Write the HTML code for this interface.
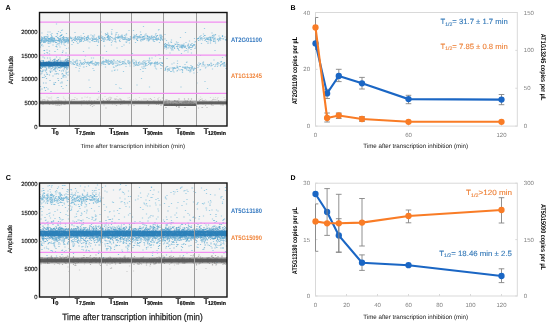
<!DOCTYPE html>
<html><head><meta charset="utf-8"><style>
html,body{margin:0;padding:0;background:#fff;width:550px;height:325px;overflow:hidden}
svg{display:block;will-change:transform;text-rendering:geometricPrecision}
</style></head><body>
<svg width="550" height="325" viewBox="0 0 550 325" font-family="Liberation Sans, sans-serif">
<rect width="550" height="325" fill="#fff"/>
<rect x="39.5" y="12.5" width="187.5" height="113.5" fill="#f4f4f4"/>
<g transform="scale(.5)">
<path d="M133 75h0m3 9h0m-9-7h0m3 2h0m-21 1h0m-7-2h0m6-2h0m3 6h0m16-1h0m-38-7h0m26 14h0m18-5h0m-40-5h0m4 5h0m32-4h0m-11 1h0m18 3h0m-19-7h0m18 6h0m-7 2h0m-9 0h0m-28-5h0m1 4h0m38-8h0m-31 4h0m21 2h0m-15-5h0m2 4h0m-26 6h0m47 2h0m-30-6h0m2 1h0m-16-6h0m32-1h0m9-1h0m-15 7h0m-2 0h0m17-4h0m-39-2h0m25 5h0m12 0h0m-22-1h0m30 4h0m-25-4h0m-19 0h0m50-4h0m-31 4h0m18 4h0m-39-4h0m42 0h0m-38 1h0m-2 0h0m9 1h0m9 0h0m3 0h0m-3-5h0m-23 4h0m33-6h0m8 6h0m14-5h0m-25 4h0m22 2h0m1-3h0m-43 1h0m-8-5h0m6 2h0m33 5h0m-28-6h0m-8 6h0m48-6h0m-15 1h0m16-1h0m-37 4h0m-8 2h0m-3-5h0m47 2h0m-45 6h0m37-6h0m-35-2h0m38 4h0m-47-2h0m19-1h0m1-4h0m34 9h0m-5-5h0m-30 2h0m3-3h0m16 7h0m-4-2h0m15 1h0m-12-3h0m-10 1h0m22 2h0m-33 0h0m2-2h0m-1-1h0m8-1h0m-26-1h0m24-1h0m-8 4h0m-4-2h0m0-5h0m32 6h0m-24 3h0m35-4h0m-33-5h0m16 6h0m-22 3h0m30-2h0m-36-2h0m4 7h0m1 0h0m-9-6h0m36 3h0m-19-2h0m-18 2h0m24 2h0m-3-2h0m1-3h0m12-2h0m-37-1h0m25 3h0m-26 4h0m54-3h0m-19-1h0m-28 1h0m43-1h0m-43 2h0m11-6h0m-18-2h0m19 5h0m20-3h0m-35 9h0m38-6h0m-20 0h0m22-4h0m-37 6h0m42-3h0m-10 6h0m-39-1h0m25-5h0m-24 3h0m38-10h0m-21 7h0m24 6h0m6-1h0m-41-2h0m37-1h0m-25-5h0m0 1h0m16 5h0m18 5h0m-16-13h0m-27 9h0m-13 0h0m6 1h0m11-6h0m-13 1h0m0 2h0m51-3h0m-46-1h0m10 1h0m37 3h0m-25 1h0m9-1h0m-23 0h0m22-2h0m-30 0h0m11 6h0m33-4h0m-11 0h0m-15 3h0m0 1h0m16 0h0m-20-3h0m2-1h0m8 1h0m-1 0h0m-5 3h0m8-3h0m-26 1h0m34-2h0m-34 4h0m38-11h0m-14 8h0m21 1h0m-30-6h0m14 11h0m-34-7h0m14-1h0m-9-2h0m30 6h0m-32-2h0m22-3h0m-14 3h0m-5 1h0m37 2h0m-33-3h0m-9-4h0m18 1h0m-11-5h0m29 5h0m-5 4h0m19-1h0m-6-1h0m-31-1h0m32 6h0m-35-4h0m35 2h0m-42-2h0m46-3h0m-21 7h0m-6-9h0m-4 0h0m-1 3h0m-13-1h0m28 0h0m-16 0h0m30 5h0m-44-3h0" stroke="#2990c4" stroke-width="2.4" stroke-linecap="square" stroke-opacity="0.55" fill="none"/>
<path d="M114 67h0m-18-3h0m27 24h0m-24-11h0m-3-3h0m24 20h0m1-23h0m16 10h0m-49-7h0m-2 18h0m42-15h0m-32 5h0m37-15h0m-20 26h0m2-23h0m-35 18h0m33 2h0m17 1h0m8 5h0m-36-27h0m-12 15h0m42-3h0m-28 3h0m2 6h0m1-9h0m5-8h0m-28 6h0m-3 15h0m43-25h0m-7 12h0m-14-10h0m15 19h0m3-25h0m-24 12h0m6 2h0m-9 2h0m-6 20h0m26-7h0m9-23h0m-8 28h0m-20-30h0m22-6h0m-13 4h0m2 15h0m-25 3h0m44-25h0m7 24h0m-35-6h0m4 8h0m8-9h0" stroke="#4aa8d4" stroke-width="2.4" stroke-linecap="square" stroke-opacity="0.5" fill="none"/>
<path d="M96 72h0m27-2h0m-11 23h0m-14-6h0m17-20h0m8 19h0m-39 3h0m6-15h0m10-10h0m-6 36h0m19-52h0m-30 43h0m50 6h0m-10-36h0m-19 21h0m-15 25h0m-5-41h0m39 19h0m-10-12h0m-9 1h0m-6 19h0m-15-12h0" stroke="#4aa8d4" stroke-width="2.4" stroke-linecap="square" stroke-opacity="0.5" fill="none"/>
<rect x="79" y="123.6" width="60" height="8.8" fill="#0a62a2" fill-opacity="0.8"/>
<path d="M111 128h0m-18-2h0m33 1h0m-35 7h0m18-3h0m8-4h0m-32 4h0m28-5h0m-26 3h0m46-6h0m-40 1h0m20 1h0m21 7h0m-28-3h0m-25 1h0m21-2h0m12 1h0m-3 0h0m25 1h0m-51-1h0m2-4h0m15 0h0m3 7h0m22 1h0m-37-3h0m-9-7h0m40 10h0m-15-4h0m-24-1h0m52 0h0m-51-1h0m25 7h0m-7-1h0m34-8h0m-31 2h0m-12 2h0m38 3h0m-20-12h0m-21 11h0m-1 2h0m27-6h0m-31 1h0m16 4h0m20-3h0m2-5h0m-4 0h0m-30 1h0m-7-2h0m37 5h0m-16-2h0m10 2h0m-25 2h0m1 4h0m2-5h0m31-7h0m-29 10h0m0-4h0m35 4h0m-25-5h0m25 2h0m-18-1h0m4 0h0m-12 4h0m6-6h0m-4 2h0m9 1h0m20-2h0m-16-6h0m-2 8h0m3-10h0m-36 4h0m12 3h0m11 3h0m33 2h0m-14 0h0m10-1h0m-21-3h0m18 5h0m-23-5h0m26 5h0m5-11h0m-19 4h0m-11 1h0m13 2h0m14-8h0m-28 11h0m13 0h0m-37-1h0m31-4h0m-16 7h0m26-7h0m-27 5h0m18-3h0m-6 0h0m29-1h0m-7 1h0m-46 4h0m48 1h0m-9 0h0m-38-2h0m37-1h0m10-1h0m-36 5h0m15-7h0m-23-1h0m12 2h0m8-5h0m-4 4h0m-14 1h0m46-3h0m-56 1h0m9 4h0m7-3h0m-3 1h0m-11 3h0m20-5h0m-9-2h0m5 4h0m-13 1h0m44-7h0m-4 8h0m-45-3h0m1 0h0m37-2h0m-23 2h0m5 4h0m7-1h0m27 1h0m-48-4h0m14 6h0m23-1h0m-10-4h0m-13-8h0m9 8h0m-28 9h0m18-9h0m20-3h0m-39 8h0m27-7h0m-18 4h0m1 0h0m6-7h0m-5 5h0m-5 4h0m9-5h0m28 3h0m-10-2h0m11 3h0m4 3h0m-7-10h0m-30 3h0m10 2h0m-5-3h0m27-1h0m-8 2h0m1 0h0m13-1h0m-36 3h0m2 2h0m22-1h0m11 0h0m-48 2h0m52-8h0m-37 4h0m3 1h0m18 1h0m16-7h0m-49 11h0m23-9h0m20 4h0m-18 1h0m6 1h0m6-5h0m-5 0h0m-35 3h0m51 1h0m-38 1h0m11-3h0m24-2h0m-29-2h0m5 10h0m10-10h0m-15 6h0m-4-1h0m14 1h0m-20 1h0m13 1h0m-11-4h0m-5 1h0m49-7h0m-8 6h0m8-3h0m-32 3h0m-9 4h0m37-4h0m-37 4h0m10-5h0m11 2h0m-24-2h0m16-7h0m18 6h0m-11 1h0m-16 2h0m-11-1h0m18 0h0m1 3h0m-11-1h0m7-3h0m-1 4h0m-16-9h0m46 5h0m-6 1h0m-11 4h0m-20-6h0m17-3h0m-11 6h0m-9 4h0m4-6h0m18 1h0m-17-1h0m20 1h0m13 4h0m-7 2h0m8-4h0m0-2h0m-7 6h0m-16-6h0m-15 0h0m-10-1h0m19 0h0m-15 2h0m0-2h0m10 2h0m3-1h0m37 2h0m-49-3h0m28 0h0m-34 2h0m47-1h0m-43 0h0m17 4h0m6-7h0m17-3h0m-18 8h0m-12-3h0m30 5h0m-34-4h0m44-4h0m-18 11h0m-37-6h0m55-2h0m-6-1h0m-38 4h0m45-4h0m-33 3h0m33 3h0m-27-8h0m-6 3h0m-2 3h0m21 3h0m2-2h0m2-4h0m-2 6h0m-36-6h0m-6 1h0m14 1h0m2-4h0m3 13h0m11-6h0m-17-3h0m41-3h0m-35-2h0m-9 5h0m10 1h0m3-3h0m6 0h0m-21 3h0m15-2h0m29-6h0m-47 8h0m38-1h0m-32 1h0m5-4h0m33-5h0m-25 3h0m27 5h0m-53 6h0m31 1h0m-28-7h0m25-6h0m15 4h0m-36 2h0m5 0h0m36-1h0m-5 4h0m-11-7h0m1-4h0m-23 4h0m19-1h0m22 11h0" stroke="#0d66a6" stroke-width="2.4" stroke-linecap="square" stroke-opacity="0.5" fill="none"/>
<path d="M124 148h0m-26-15h0m-17 8h0m37-5h0m5-2h0m7 1h0m0 0h0m-7 7h0m-11-7h0m-10 48h0m-3-33h0m27 4h0m-11-20h0m18 2h0m-9 28h0m-30-16h0m-7 18h0m-6-30h0m3-4h0m17 11h0m33-4h0m-35-3h0m-17 7h0m47-5h0m-23-4h0m5 8h0m6 19h0m-31-28h0m24 1h0m-13 2h0m-3 13h0m-12-12h0m26 29h0m-25-33h0m2 2h0m30 3h0m1 19h0m14-6h0m3-3h0m-24-11h0m19 14h0m-38-17h0m21-1h0m23 5h0m-50 40h0m42-38h0m-37 10h0m-7-2h0m29-10h0m20-4h0m-32 16h0m-6 7h0m5-25h0m-5 4h0m17 12h0m-24-8h0m4 0h0m35-7h0m-32 7h0m26-5h0m-13 17h0m-20-11h0m15 4h0m-8-7h0m32 9h0m7 7h0m-12-19h0m-11 2h0m27 13h0m-45-8h0m-6-10h0m7 34h0m16-26h0m15 33h0m-37-33h0m49-5h0m-26 4h0m18 3h0m-6-6h0m-36 7h0m43-7h0m-28-3h0m12 10h0m4 52h0m-16-34h0m-5-12h0m9-7h0m18-8h0m-4-2h0m-10 37h0m19-19h0m-36 3h0m41-11h0m-29-9h0m-22 2h0m30 2h0m-4 2h0m-11 39h0m15-13h0m10-29h0m13 9h0m-52-13h0m32 15h0m22-13h0m-36 8h0m33-5h0m-33-2h0m23 22h0m-19-20h0m13-2h0m2 6h0m-31 14h0m3 26h0m19-33h0m-21-15h0m39 0h0m-11 15h0m-32 7h0m45-22h0m-4 7h0m4-5h0m-50 2h0m6 5h0m3 33h0m-4-42h0m33 0h0m18 3h0m-14-4h0m-38 14h0m48 0h0" stroke="#2990c4" stroke-width="2.4" stroke-linecap="square" stroke-opacity="0.5" fill="none"/>
<path d="M82 121h0m42-11h0m-35 6h0m25 5h0m18-15h0m-17 17h0m15-1h0m-25 0h0m-19-1h0m19 0h0m23 3h0m-33-8h0m41-4h0m-47-11h0m31 15h0m6-14h0m-32 3h0m29 17h0m10-3h0m-34-17h0m-4 4h0m3 16h0m11 0h0m22-3h0m-32 4h0m37-6h0m-11-12h0m-12 9h0m7 6h0m16 2h0m-49 1h0m21-4h0m-9-11h0m35 10h0m-24-15h0m-10 13h0m-14-2h0m45-3h0m-44 10h0m23-3h0" stroke="#2990c4" stroke-width="2.4" stroke-linecap="square" stroke-opacity="0.5" fill="none"/>
<path d="M89 176h0m20-7h0m17 8h0m-5-11h0m-40 7h0m43-7h0m11-5h0m-42 14h0m35-21h0m-15-6h0m-20-3h0m44-1h0m-4 27h0m-7-19h0m-46 28h0" stroke="#4aa8d4" stroke-width="2.4" stroke-linecap="square" stroke-opacity="0.5" fill="none"/>
<rect x="79" y="201" width="60" height="8.4" fill="#4e4e4e" fill-opacity="0.35"/>
<rect x="79" y="202.6" width="60" height="5.2" fill="#4e4e4e" fill-opacity="0.85"/>
<path d="M121 206h0m-31-6h0m34 4h0m-39-4h0m26 2h0m19 7h0m-15 1h0m3-6h0m5-1h0m-25 4h0m6-1h0m10 5h0m-13-4h0m-3-11h0m39 9h0m-57-2h0m16-2h0m-7 4h0m15 0h0m27-2h0m-14 7h0m17-4h0m-49 0h0m52-1h0m-9 4h0m3-9h0m-25 9h0m-20-6h0m36 7h0m-36-1h0m51-3h0m-48-3h0m19 2h0m-2 1h0m-18-7h0m1 4h0m16-1h0m-6 7h0m12 1h0m2-8h0m9 0h0m-6-2h0m-9 5h0m5 2h0m7 4h0m-24-11h0m28 8h0m-4-4h0m-1-2h0m-23 1h0" stroke="#666" stroke-width="2.4" stroke-linecap="square" stroke-opacity="0.35" fill="none"/>
<path d="M137 196h0m-20 3h0m10-5h0m-45 2h0m31 0h0m-19-2h0m9 4h0m5 3h0m11 0h0m-16-7h0m25 3h0m-27-1h0" stroke="#bbb" stroke-width="2.4" stroke-linecap="square" stroke-opacity="0.4" fill="none"/>
<path d="M197 73h0m-53 3h0m19 2h0m13-6h0m18 10h0m-30-6h0m-13 4h0m-1-1h0m18-2h0m-8-2h0m-17 2h0m12 1h0m42 2h0m-33-3h0m1 0h0m-12 0h0m10 5h0m10-3h0m-22-3h0m24-2h0m15 3h0m-24-2h0m-14 2h0m8 5h0m37-2h0m-22-1h0m14 0h0m3 4h0m-19-8h0m7 4h0m-16-2h0m-3 2h0m7-1h0m-5-1h0m10 3h0m25-8h0m-11 7h0m6 1h0m-38-5h0m4 0h0m38 9h0m-34-9h0m10 2h0m-31-1h0m51 0h0m-7 0h0m0-4h0m-39 13h0m1-9h0m16 3h0m28-1h0m-48 4h0m0-2h0m40 1h0m2 1h0m-16-1h0m-1-3h0m-19 3h0m1-8h0m-2 8h0m6-1h0m36-1h0m-16-5h0m1 8h0m22-6h0m-39 4h0m10-7h0m19 5h0m-11-2h0m-20 0h0m-6 0h0m10 7h0m-2-5h0m-12 1h0m12 5h0m-4-10h0m34 9h0m-39-6h0m20-1h0m15 1h0m-27-4h0m-7 1h0m25 1h0m-12 1h0m5 4h0m-24 1h0m54-4h0m-46 2h0m32 0h0m13-2h0m-40 2h0m41-3h0m-39 4h0m8-3h0m0 1h0m-8 1h0m-4 0h0m-6-3h0m38-2h0m-32 4h0" stroke="#2990c4" stroke-width="2.4" stroke-linecap="square" stroke-opacity="0.5" fill="none"/>
<path d="M197 75h0m-2 4h0m-21 1h0m23 4h0m-53 5h0m-2-12h0m41-1h0m-7 2h0m-13 4h0m17-5h0m9-7h0m10 4h0m-19 10h0m2-14h0m-3 14h0m-12-17h0m0 16h0m-14 0h0m24-7h0m-16 2h0m-20-2h0m54 15h0m-21-16h0m3-3h0m7 9h0m-28 6h0m7-6h0m36-4h0m-44 9h0m7-14h0" stroke="#4aa8d4" stroke-width="2.4" stroke-linecap="square" stroke-opacity="0.5" fill="none"/>
<path d="M193 125h0m-31 1h0m22 1h0m-10-2h0m-27-1h0m35-1h0m6 4h0m-21-2h0m-3 1h0m21-4h0m-4 2h0m-26-2h0m37 7h0m1 0h0m-7-2h0m-31-1h0m41 2h0m-12-5h0m-42 0h0m48 6h0m-20-5h0m-29 2h0m9-1h0m4-5h0m25 5h0m-32 3h0m6 2h0m-7-10h0m24 2h0m-19 3h0m3 4h0m39 1h0m-5 0h0m-33 1h0m40-6h0m-34-1h0m-12 5h0m31-3h0m-4 0h0m-5-1h0m26 0h0m-38 4h0m17-5h0m-23-2h0m29 3h0m-2 2h0m-19-1h0m-21 0h0m20-5h0m-9 3h0m26 5h0m-22-3h0m-5-1h0m16 4h0m7-4h0m-29 3h0m51-1h0m-43 0h0m11 2h0m-5 3h0m39-2h0m-6-6h0m-41-1h0m42 2h0m-17 1h0m-16 2h0m38-2h0m-13 1h0m-32-5h0m46 4h0m-20 2h0m1 3h0m-11-3h0m-5-1h0m-23-4h0m45 3h0m-9 0h0m7 0h0m-20 1h0m22 1h0" stroke="#2990c4" stroke-width="2.4" stroke-linecap="square" stroke-opacity="0.45" fill="none"/>
<path d="M181 125h0m2-9h0m-39 9h0m46 1h0m-21-7h0m4 14h0m-8-6h0m-17 2h0m43 2h0m-13-5h0m-23 1h0m6 5h0m7 2h0m-16 1h0m23-9h0m-8 8h0m19 3h0m1-21h0m-4 8h0m-14 3h0m4 1h0m-15 14h0m1-5h0m-13-10h0m47 0h0" stroke="#4aa8d4" stroke-width="2.4" stroke-linecap="square" stroke-opacity="0.5" fill="none"/>
<path d="M178 96h0m-11 7h0m4 9h0m9 63h0m8-34h0m-10 19h0m7-88h0m-44 2h0m9-9h0m47 118h0" stroke="#4aa8d4" stroke-width="2.4" stroke-linecap="square" stroke-opacity="0.5" fill="none"/>
<rect x="139" y="201" width="61" height="8.4" fill="#4e4e4e" fill-opacity="0.35"/>
<rect x="139" y="202.6" width="61" height="5.2" fill="#4e4e4e" fill-opacity="0.85"/>
<path d="M185 208h0m9-3h0m-1-2h0m-45 0h0m33 8h0m-8-9h0m12 11h0m4-11h0m-43-3h0m35 12h0m-28-7h0m10 6h0m-19-4h0m52-3h0m-21 5h0m4-5h0m-14 3h0m-5-2h0m-6-6h0m0 8h0m10-4h0m25 2h0m-41 2h0m47-7h0m-54 7h0m57 0h0m-10 5h0m0-4h0m-2-2h0m-3-3h0m11 2h0m-45-5h0m34 7h0m-40-3h0m18 0h0m22 1h0m-9 2h0m-4-1h0m-27-5h0m40 9h0m-31-5h0m18 1h0m28-1h0m-30-3h0m12 4h0m-18-2h0m16-2h0m-32 4h0m0 2h0m3-1h0" stroke="#666" stroke-width="2.4" stroke-linecap="square" stroke-opacity="0.35" fill="none"/>
<path d="M196 199h0m-22-4h0m6 0h0m14 3h0m3-2h0m-17 2h0m18-4h0m-28 0h0m-6 3h0m-14-2h0m14 0h0m11-1h0" stroke="#bbb" stroke-width="2.4" stroke-linecap="square" stroke-opacity="0.4" fill="none"/>
<path d="M238 74h0m-35 0h0m50-6h0m-37 6h0m42 5h0m-37-6h0m27 6h0m-17-1h0m-2 0h0m-10 0h0m42-2h0m-7 3h0m7 0h0m-55-2h0m31-1h0m-6 4h0m-12 1h0m19-7h0m21 5h0m-13-3h0m-6 7h0m-17-8h0m13-1h0m-35-1h0m15 6h0m23-6h0m1 5h0m-31-3h0m13 5h0m37 1h0m-45-1h0m-3-10h0m20 2h0m-8-4h0m9 16h0m-27-10h0m37 1h0m-17 1h0m-18 2h0m25-3h0m4 1h0m-16 0h0m-5-4h0m39 10h0m-15-1h0m-19-5h0m28 0h0m-23 6h0m5 1h0m-20-7h0m9 2h0m4-3h0m27 2h0m-36-8h0m18 0h0m-16 9h0m30-2h0m-36 1h0m20-1h0m-13 2h0m27-1h0m10-1h0m6 1h0m-18-3h0m-41 6h0m44-7h0m0 2h0m5 4h0m-5-4h0m-35 4h0m47 2h0m-40-2h0m33-4h0m-41 7h0m-3-4h0m12-5h0m-11 9h0m13-5h0m-10 1h0m43 1h0m-5-4h0m5 4h0m-17-6h0m-21 0h0m-12 2h0m4 8h0m10-5h0m1 2h0m0-5h0m33 3h0m-7-8h0m-9 6h0m-8 2h0m-12-3h0m22-5h0m-20 1h0m33 7h0m6 2h0m-22-5h0m-31 6h0m39-9h0m-22 6h0m37-1h0m-51 2h0m38-7h0m2 7h0m-42-2h0m47-3h0m-36 1h0m33 1h0" stroke="#2990c4" stroke-width="2.4" stroke-linecap="square" stroke-opacity="0.5" fill="none"/>
<path d="M217 72h0m-1-4h0m28 25h0m7-23h0m-9 4h0m-28 1h0m20 21h0m-28-22h0m47-4h0m6 16h0m-57-15h0m22-12h0m29 26h0m-1-1h0m-29-20h0m-8 2h0m21 10h0m-12-8h0m-22-4h0m30 2h0m-9 24h0m0-5h0m-12-18h0m26 8h0m-20 2h0m44-4h0m-22 2h0m9 15h0m1-19h0m-36-2h0" stroke="#4aa8d4" stroke-width="2.4" stroke-linecap="square" stroke-opacity="0.5" fill="none"/>
<path d="M227 120h0m20 3h0m-35-1h0m-1 1h0m30 2h0m-6 6h0m-21-8h0m7 1h0m-9 1h0m-1 4h0m27-5h0m-33 2h0m15 1h0m31 0h0m-1-7h0m-36 1h0m3 6h0m0-7h0m8 4h0m-12-3h0m11 5h0m-10-1h0m21-4h0m-10 3h0m-5-2h0m-13 1h0m-1 5h0m40-2h0m-30 0h0m-8 3h0m14-4h0m14 3h0m24-2h0m-45 0h0m45-2h0m-35-1h0m-18-1h0m51 0h0m-52 4h0m-1 0h0m6-3h0m48 5h0m-53-5h0m6 1h0m11-3h0m33 2h0m1 4h0m-10-1h0m-23-3h0m22 5h0m10-3h0m-16 0h0m10 3h0m-29-2h0m-17-2h0m24-2h0m25 6h0m-41-9h0m-3 4h0m19-3h0m-9 3h0m-18 4h0m48-3h0m-5 0h0m15 1h0m-57 5h0m6-1h0m19-3h0m18-3h0m-28 1h0m-9 2h0m0-2h0m16 1h0m-2-3h0m34-1h0m-28 1h0m0 4h0m30-4h0m-25 10h0m-28-6h0m-2 1h0m24 1h0m-12-6h0m25 0h0m-6 2h0m-16 3h0m-15-1h0m16 3h0m24 0h0m-8-1h0" stroke="#2990c4" stroke-width="2.4" stroke-linecap="square" stroke-opacity="0.45" fill="none"/>
<path d="M245 127h0m-34 7h0m21-7h0m-26-11h0m25 8h0m-25 0h0m46 9h0m-23 8h0m-4-12h0m20-2h0m-10 13h0m-18-18h0m23 8h0m-9 2h0m-7-5h0m26-1h0m-10 3h0m-10 11h0m30-8h0m-22-9h0m0 7h0m-10 5h0m-4 7h0m3-8h0m-10-5h0" stroke="#4aa8d4" stroke-width="2.4" stroke-linecap="square" stroke-opacity="0.5" fill="none"/>
<path d="M232 169h0m26-108h0m-16 116h0m5-34h0m-31-69h0m18-9h0m-25 27h0m4 11h0m26 73h0m-27-55h0" stroke="#4aa8d4" stroke-width="2.4" stroke-linecap="square" stroke-opacity="0.5" fill="none"/>
<rect x="200" y="200.6" width="62" height="8.4" fill="#4e4e4e" fill-opacity="0.35"/>
<rect x="200" y="202.2" width="62" height="5.2" fill="#4e4e4e" fill-opacity="0.85"/>
<path d="M237 202h0m2-4h0m8 8h0m-13-2h0m7 5h0m-10-10h0m19 5h0m-17 7h0m3-12h0m-15 0h0m35 5h0m1 6h0m-16-11h0m0 5h0m-15-1h0m-11-2h0m6 2h0m9 5h0m27-4h0m-44-5h0m5 2h0m39 3h0m-28-6h0m19 3h0m-4 1h0m-21-6h0m-15 14h0m-3-12h0m44 6h0m7-1h0m-38-2h0m26 7h0m-13-4h0m11-4h0m-17 8h0m21-3h0m15-5h0m-30-2h0m18 9h0m-33-4h0m17-5h0m23 7h0m-39-7h0m-10 3h0m12-1h0m2-4h0m26 10h0m-35 10h0m5-10h0m31-1h0" stroke="#666" stroke-width="2.4" stroke-linecap="square" stroke-opacity="0.35" fill="none"/>
<path d="M256 196h0m-39 5h0m-7-8h0m10 1h0m39 1h0m0 4h0m-18-2h0m19 3h0m-42-5h0m25 4h0m-9-6h0m-20 4h0" stroke="#bbb" stroke-width="2.4" stroke-linecap="square" stroke-opacity="0.4" fill="none"/>
<path d="M296 76h0m28 0h0m-55-2h0m31 3h0m25 2h0m-40-3h0m23-3h0m17 6h0m-15-4h0m-35 6h0m4-9h0m20 3h0m-35 1h0m56-6h0m-30 6h0m27 1h0m-48-2h0m45 2h0m-20-1h0m-19-3h0m32 5h0m-12-5h0m10 2h0m-19-2h0m4 4h0m19-3h0m-9 0h0m-18-5h0m23 6h0m-2 3h0m-30-9h0m27 8h0m-37-2h0m59-5h0m-9 4h0m-12 4h0m21-3h0m-48 1h0m37 3h0m-27-5h0m12 4h0m24-6h0m-44 1h0m5 7h0m5 0h0m19-2h0m-11-7h0m12 4h0m-18-2h0m38 8h0m-56-10h0m25 1h0m-28 2h0m27 2h0m9-2h0m-22 1h0m-1 1h0m-12 0h0m43-6h0m-8 2h0m-18 8h0m-17-4h0m53 5h0m-27-1h0m22-1h0m-5-3h0m3 4h0m-34-6h0m27 8h0m6-5h0m-19 0h0m9-3h0m-4 0h0m-15 1h0m23-1h0m-38-1h0m35-1h0m-18 4h0m3 3h0m8 3h0m-23-4h0m-7-3h0m21 3h0m10 3h0m4-5h0m16 3h0m-50-2h0m8-1h0m2-2h0m43 4h0m-41-5h0m18 0h0m-4 4h0m-7 2h0m12 0h0m17-1h0m-35-3h0m-2 0h0m34 4h0m-31 3h0m10-14h0m-9 11h0m5-3h0m29 0h0m-8-2h0m-24 0h0m-12-2h0m50 5h0m-51-4h0m33 2h0m10-4h0m-30 8h0m16-1h0m22-6h0m-11 5h0m-27-2h0m39-2h0m-40 3h0m-16 2h0m29 2h0" stroke="#2990c4" stroke-width="2.4" stroke-linecap="square" stroke-opacity="0.5" fill="none"/>
<path d="M317 60h0m-49 10h0m3 6h0m42-3h0m-4 6h0m12-3h0m-7-5h0m-7 8h0m-31-4h0m-5 10h0m10-21h0m-14 10h0m15-4h0m-6 4h0m46 5h0m-47 2h0m43-22h0m1 26h0m-6-5h0m1 0h0m-17-4h0m12 7h0m-36-4h0m-6-18h0m23 9h0m31 4h0m-26-1h0m-5-1h0m16 8h0m6-13h0" stroke="#4aa8d4" stroke-width="2.4" stroke-linecap="square" stroke-opacity="0.5" fill="none"/>
<path d="M315 129h0m-17-6h0m-25 5h0m6-4h0m44 1h0m-14 3h0m2-2h0m-18 1h0m-10 1h0m19-1h0m-31 4h0m50-2h0m-9-4h0m-22 2h0m9-1h0m-17 0h0m44 6h0m-36-7h0m11 5h0m-7 1h0m-10 3h0m17-7h0m-33 1h0m44 0h0m-43-2h0m22 6h0m34 0h0m-25-11h0m19 5h0m-46 4h0m-7-6h0m49 1h0m9 2h0m-20 0h0m6-1h0m0 1h0m-1 5h0m-13-11h0m-11 5h0m5-2h0m24 4h0m-5-2h0m-46 2h0m23-1h0m2 6h0m-2-10h0m-14 3h0m8 3h0m20-3h0m-23 1h0m-5-4h0m-2 6h0m48-2h0m-16 1h0m-12-3h0m-2 0h0m21 0h0m-33 6h0m16-9h0m0 6h0m-12 0h0m-2 2h0m32-2h0m5-4h0m1 4h0m-44-6h0m19 8h0m-24-3h0m2-2h0m8 1h0m24 2h0m-37-6h0m58 9h0m-54-6h0m55 6h0m-21-4h0m-34 5h0m43-8h0m-25 5h0m28-2h0m-10-2h0m-7 4h0m3-3h0m22-1h0m-18 1h0m-7-1h0m28 1h0m1 1h0m-50 3h0m23-3h0" stroke="#2990c4" stroke-width="2.4" stroke-linecap="square" stroke-opacity="0.45" fill="none"/>
<path d="M303 126h0m-38-6h0m60 7h0m-48-2h0m11 5h0m13-4h0m-15 17h0m2-7h0m34 1h0m-23-19h0m15 7h0m-23 12h0m20-5h0m-20-4h0m17-1h0m3 9h0m0-24h0m-23 9h0m11-5h0m-13 21h0m34-20h0m6 9h0m-45 13h0m-8-14h0m2 5h0" stroke="#4aa8d4" stroke-width="2.4" stroke-linecap="square" stroke-opacity="0.5" fill="none"/>
<path d="M268 120h0m-3-13h0m22-34h0m17 43h0m-17-63h0m31 56h0m-35 48h0m16 17h0m14-36h0m-39 32h0" stroke="#4aa8d4" stroke-width="2.4" stroke-linecap="square" stroke-opacity="0.5" fill="none"/>
<rect x="262" y="200.8" width="65.6" height="8.4" fill="#4e4e4e" fill-opacity="0.35"/>
<rect x="262" y="202.4" width="65.6" height="5.2" fill="#4e4e4e" fill-opacity="0.85"/>
<path d="M301 203h0m-10 2h0m30-5h0m-41 6h0m43 1h0m-25-3h0m25 4h0m-24-5h0m8-1h0m-37 1h0m27 8h0m-5-13h0m11 7h0m-28-2h0m45 1h0m-17-5h0m-14 8h0m-5-1h0m-5-3h0m47-1h0m-5 2h0m-3 3h0m-30-9h0m29 11h0m-24-6h0m23 4h0m1-6h0m5 10h0m-44-6h0m-10 6h0m40-9h0m-31 0h0m45 6h0m-12-1h0m-32-2h0m35 4h0m-18-3h0m4-3h0m2-6h0m24-1h0m-24 10h0m11 0h0m-17-5h0m-1 5h0m-20-3h0m32 1h0m-8 4h0m18-10h0m-9 7h0m-8 1h0" stroke="#666" stroke-width="2.4" stroke-linecap="square" stroke-opacity="0.35" fill="none"/>
<path d="M271 201h0m-4-2h0m43 1h0m-13-2h0m12-3h0m9 0h0m-47 3h0m12 2h0m-10-1h0m43-1h0m-17 0h0m-20-3h0" stroke="#bbb" stroke-width="2.4" stroke-linecap="square" stroke-opacity="0.4" fill="none"/>
<path d="M390 97h0m-41-1h0m9-7h0m10 3h0m-13 2h0m-15-2h0m-3-6h0m18 6h0m7-2h0m23 3h0m-42 0h0m25-5h0m-29 2h0m32 3h0m11-4h0m-5 3h0m-15-2h0m19 0h0m-1 5h0m-15-3h0m11-2h0m-20 7h0m29-6h0m-16 1h0m-3 0h0m6 9h0m-24-7h0m21 1h0m-21-4h0m36 4h0m-48 1h0m20-7h0m8 4h0m9 4h0m-29 1h0m-15-5h0m53 6h0m-53-9h0m16 5h0m26-1h0m-38-5h0m0 6h0m35-7h0m-6 2h0m-29 2h0m1-3h0m10 7h0m-13-5h0m23-3h0m15 5h0m17-1h0m-35-3h0m31 2h0m-50 4h0m50 0h0m-51-8h0m46 8h0m-7 0h0m-29 1h0m1-5h0m48-1h0m-30 2h0m16-2h0m-39 1h0m27-1h0m-1 1h0m-26 0h0m21 1h0m13 1h0m-23-2h0m39 0h0m-9 6h0m1-2h0m-41-1h0m28-4h0m-2 4h0m7-2h0m20 2h0m-38-1h0m-7 7h0m1-8h0m-18-3h0m35 7h0m-35 0h0m35 0h0m-22-12h0m46 5h0m-6 1h0m2-3h0m-53 6h0m35 1h0m-3 1h0m-3 0h0m15-3h0m-20 5h0m30-4h0m-32-9h0m-8 7h0m-8-1h0m25 3h0m-23-2h0m49 0h0m-23 5h0m-1-6h0m13-2h0m-9 5h0m-35 1h0m31-2h0m11 0h0m-40-2h0" stroke="#2990c4" stroke-width="2.4" stroke-linecap="square" stroke-opacity="0.5" fill="none"/>
<path d="M349 97h0m39-8h0m-31 10h0m-25-6h0m18-5h0m41-5h0m-33 18h0m9-10h0m-24-6h0m0-5h0m36 2h0m-49 6h0m39 14h0m21-18h0m-27 10h0m-18-1h0m26-28h0m-38 16h0m0 17h0m28-23h0m-18 25h0m23-9h0m-36-13h0m10 28h0m-7-16h0m43 14h0m3-11h0m-7-8h0m4 15h0m7 6h0" stroke="#4aa8d4" stroke-width="2.4" stroke-linecap="square" stroke-opacity="0.5" fill="none"/>
<path d="M381 140h0m-21-7h0m30 4h0m-1-1h0m-24 5h0m-5-1h0m10-3h0m-6 2h0m1 0h0m12-4h0m-6 2h0m18 0h0m-20-1h0m-38 0h0m47 2h0m-23-4h0m28 0h0m-20 5h0m-8 2h0m25 1h0m-26-10h0m-16 6h0m47-3h0m-41 1h0m48 1h0m-55 1h0m-6 1h0m51-8h0m1 5h0m-37 4h0m33-3h0m-44-4h0m21 1h0m24 1h0m-41 5h0m-4 2h0m49-8h0m-2 4h0m-32-2h0m-14 3h0m12-3h0m20-2h0m-19 1h0m20 0h0m18 6h0m-32-6h0m32 4h0m-9-4h0m-12 0h0m-20 3h0m28-2h0m8 6h0m-44-1h0m33-7h0m-14 4h0m20 3h0m-44-7h0m41 2h0m6 5h0m-34-6h0m-11 4h0m16-2h0m33 1h0m-10-4h0m12 3h0m-46-1h0m14 6h0m34-3h0m-52-2h0m13 0h0" stroke="#2990c4" stroke-width="2.4" stroke-linecap="square" stroke-opacity="0.45" fill="none"/>
<path d="M365 134h0m-5-1h0m10-4h0m5 5h0m-1-10h0m14 22h0m-34-11h0m1-8h0m-13 16h0m-12-2h0m55-8h0m-37-7h0m6 10h0m20 4h0m-28 2h0m2 2h0m17 0h0m8-19h0m0 13h0m-18-16h0m10 23h0m-34-5h0m49 4h0m-33-7h0m-16 0h0" stroke="#4aa8d4" stroke-width="2.4" stroke-linecap="square" stroke-opacity="0.5" fill="none"/>
<path d="M347 93h0m-17-24h0m59 8h0m-27 97h0m-20-31h0m21-36h0m8 28h0m-27-7h0m12-43h0m-22 32h0" stroke="#4aa8d4" stroke-width="2.4" stroke-linecap="square" stroke-opacity="0.5" fill="none"/>
<rect x="327.6" y="201.2" width="65.2" height="5.6" fill="#8a8a8a" fill-opacity="0.8"/>
<rect x="327.6" y="206.8" width="65.2" height="5.2" fill="#4e4e4e" fill-opacity="0.9"/>
<path d="M389 207h0m-20-9h0m-30 9h0m21 4h0m-30-2h0m53 0h0m-17-4h0m14 1h0m-31-5h0m29 5h0m-46 9h0m-1-9h0m39-4h0m-3 6h0m16-10h0m-13 17h0m-26-7h0m42-3h0m-6-1h0m-26-2h0m31 4h0m-5 0h0m-48-6h0m9 10h0m27-6h0m-18-3h0m12 9h0m-10-1h0m24-6h0m5 0h0m-11 7h0m-16-6h0m35 3h0m-52 4h0m1-10h0m-4-1h0m47 2h0m-43 2h0m41 2h0m-5 4h0m-2-6h0m-19 9h0m-4-6h0m28-9h0m-34 8h0m13 3h0m-9 1h0m3-7h0m33 3h0m-25 9h0m3-8h0m14-5h0m-43-2h0m14 4h0m35 3h0m-25-5h0m-15 9h0m-9-8h0m26-5h0m-23 11h0m37-3h0m-15-1h0m9 6h0m18-7h0m-47 5h0m38-5h0m-17 9h0m-25-7h0m41 0h0m-24 2h0m28-2h0m11 2h0m-59-3h0m1 4h0m34-3h0m2-2h0m-8 4h0m22 0h0m-9-6h0m-2 3h0" stroke="#666" stroke-width="2.4" stroke-linecap="square" stroke-opacity="0.5" fill="none"/>
<path d="M404 77h0m-1 1h0m25-6h0m1 5h0m-9-3h0m-2 4h0m33 1h0m-15-1h0m10 0h0m-19 5h0m-9-4h0m23 1h0m-11 3h0m-35-5h0m57 1h0m-31 1h0m9-3h0m-9 5h0m4-6h0m-9 2h0m-2 0h0m28-1h0m-5 1h0m3-1h0m-30-6h0m27 11h0m2-5h0m13 4h0m-12-6h0m-22 5h0m6-6h0m-11 9h0m-18-5h0m9-1h0m27-8h0m-6 2h0m-11 6h0m16-1h0m-9 0h0m-5 0h0m7 5h0m-15-4h0m13 0h0m4-1h0m-23-1h0m9 4h0m35-2h0m-17 0h0m-15 2h0m-19-1h0m15 3h0m-10-1h0m50-6h0m-26 2h0m-27 5h0m31-4h0m-1 3h0m-9-5h0m12-5h0m15 1h0m-41 5h0m-3 1h0m30 9h0m-4-6h0m13 0h0m-3 1h0m8-8h0m2 5h0m-12 0h0m-19 6h0m-4-8h0m-12-3h0m2 5h0m45 0h0m-53 0h0m45 1h0m-11 0h0m-19-3h0m-12 1h0m24 9h0" stroke="#2990c4" stroke-width="2.4" stroke-linecap="square" stroke-opacity="0.5" fill="none"/>
<path d="M427 74h0m-29 1h0m30 7h0m-31-5h0m24-2h0m17-3h0m-33 8h0m9-4h0m31-3h0m-38-5h0m-5 3h0m33 8h0m-11-13h0m-9 13h0m7 0h0m-6 8h0m-9-14h0m20-3h0m-32 7h0m31-2h0m-17-18h0m-6 30h0m28-7h0m-15-1h0m-7-8h0" stroke="#4aa8d4" stroke-width="2.4" stroke-linecap="square" stroke-opacity="0.5" fill="none"/>
<path d="M450 131h0m0-1h0m-20 3h0m-15-4h0m20-1h0m-13-1h0m-24 5h0m0-6h0m8 2h0m-12 1h0m29 2h0m-4-2h0m29-2h0m-32 4h0m-10-5h0m32 1h0m-31-3h0m12 6h0m17 0h0m0-5h0m-37 4h0m-3 2h0m5-3h0m5-3h0m38 4h0m-20 2h0m19-7h0m-21 8h0m5-3h0m-19 3h0m14-6h0m-6 6h0m33-2h0m-2 2h0m-30-2h0m24 2h0m-34-3h0m16-1h0m26-2h0m0-1h0m-39 5h0m23-2h0m-27 1h0m37 0h0m-12 1h0m11-1h0m5-1h0m-23 3h0m-28 4h0m49-8h0" stroke="#2990c4" stroke-width="2.4" stroke-linecap="square" stroke-opacity="0.45" fill="none"/>
<path d="M428 120h0m-24 12h0m-3 7h0m11-5h0m40 3h0m-51-26h0m40 13h0m12 4h0m-5-3h0m3-13h0m-51 28h0m50-7h0m-5-18h0m-44 12h0m40 4h0m-16 7h0m-14-2h0m32-13h0m-8 3h0m0 7h0" stroke="#4aa8d4" stroke-width="2.4" stroke-linecap="square" stroke-opacity="0.5" fill="none"/>
<path d="M394 166h0m21 11h0m-21-32h0m59-67h0m-34 52h0m-9 33h0m11-84h0m9 22h0" stroke="#4aa8d4" stroke-width="2.4" stroke-linecap="square" stroke-opacity="0.5" fill="none"/>
<rect x="392.8" y="201.4" width="61.2" height="8.4" fill="#4e4e4e" fill-opacity="0.35"/>
<rect x="392.8" y="203" width="61.2" height="5.2" fill="#4e4e4e" fill-opacity="0.85"/>
<path d="M412 202h0m-2 3h0m42-3h0m-2-3h0m-13 4h0m-25 3h0m-7-5h0m-11 5h0m32 5h0m20-2h0m-26-6h0m31-1h0m-56 6h0m31-9h0m-18 2h0m3 10h0m38-5h0m-15 0h0m4-2h0m-34 11h0m-7 1h0m10-12h0m16 4h0m-15-4h0m21 3h0m-6 3h0m29 0h0m-11-6h0m-20 2h0m-7 9h0m-8-7h0m36 2h0m-15-3h0m16-2h0m-44-4h0m38 0h0m-36-2h0m7 2h0m16 1h0m-27 6h0m33-9h0m-1 8h0m-25-9h0m1 17h0m37-12h0m7 3h0m-3 5h0m-14-7h0m1 1h0m14 0h0" stroke="#666" stroke-width="2.4" stroke-linecap="square" stroke-opacity="0.35" fill="none"/>
<path d="M426 199h0m-28-1h0m38-3h0m-15 0h0m-20-1h0m30 1h0m3 4h0m-23 0h0m16-3h0m8 1h0m-34-3h0m47 1h0" stroke="#bbb" stroke-width="2.4" stroke-linecap="square" stroke-opacity="0.4" fill="none"/>
</g>
<line x1="69.5" y1="12.5" x2="69.5" y2="126" stroke="#9c9c9c" stroke-width="1"/>
<line x1="100.5" y1="12.5" x2="100.5" y2="126" stroke="#9c9c9c" stroke-width="1"/>
<line x1="131.5" y1="12.5" x2="131.5" y2="126" stroke="#9c9c9c" stroke-width="1"/>
<line x1="163.5" y1="12.5" x2="163.5" y2="126" stroke="#9c9c9c" stroke-width="1"/>
<line x1="196.5" y1="12.5" x2="196.5" y2="126" stroke="#9c9c9c" stroke-width="1"/>
<line x1="39.5" y1="22.2" x2="227" y2="22.2" stroke="#f28ef2" stroke-width="1.2"/>
<line x1="39.5" y1="55.2" x2="227" y2="55.2" stroke="#f28ef2" stroke-width="1.2"/>
<line x1="39.5" y1="93.3" x2="227" y2="93.3" stroke="#f28ef2" stroke-width="1.2"/>
<rect x="39.5" y="12.5" width="187.5" height="113.5" fill="none" stroke="#111" stroke-width="1.4"/>
<text x="37.5" y="33.6" font-size="6" fill="#222" text-anchor="end" textLength="16.25" lengthAdjust="spacingAndGlyphs" stroke="#222" stroke-width="0.18">20000</text>
<text x="37.5" y="57.5" font-size="6" fill="#222" text-anchor="end" textLength="16.25" lengthAdjust="spacingAndGlyphs" stroke="#222" stroke-width="0.18">15000</text>
<text x="37.5" y="81.4" font-size="6" fill="#222" text-anchor="end" textLength="16.25" lengthAdjust="spacingAndGlyphs" stroke="#222" stroke-width="0.18">10000</text>
<text x="37.5" y="105.0" font-size="6" fill="#222" text-anchor="end" textLength="13.0" lengthAdjust="spacingAndGlyphs" stroke="#222" stroke-width="0.18">5000</text>
<text x="37.5" y="128.7" font-size="6" fill="#222" text-anchor="end" textLength="3.25" lengthAdjust="spacingAndGlyphs" stroke="#222" stroke-width="0.18">0</text>
<text x="231" y="42.199999999999996" font-size="6.5" fill="#3579c0" font-weight="bold" textLength="31" lengthAdjust="spacingAndGlyphs">AT2G01100</text>
<text x="231" y="78.1" font-size="6.5" fill="#f0843a" font-weight="bold" textLength="31" lengthAdjust="spacingAndGlyphs">AT1G13245</text>
<text transform="translate(12.600000000000001,70) rotate(-90)" font-size="6.5" text-anchor="middle" fill="#111" stroke="#111" stroke-width="0.15" textLength="28.6" lengthAdjust="spacingAndGlyphs">Amplitude</text>
<text x="5.6" y="10.1" font-size="7.2" fill="#000" font-weight="bold">A</text>
<text x="51.3" y="133.5" font-size="8.5" fill="#111" font-weight="bold">T</text>
<text x="55.599999999999994" y="135.1" font-size="5.5" fill="#111" font-weight="bold" textLength="3.2" lengthAdjust="spacingAndGlyphs" stroke="#111" stroke-width="0.2">0</text>
<text x="74.6" y="133.5" font-size="8.5" fill="#111" font-weight="bold">T</text>
<text x="78.89999999999999" y="135.1" font-size="5.5" fill="#111" font-weight="bold" textLength="16" lengthAdjust="spacingAndGlyphs" stroke="#111" stroke-width="0.2">7.5min</text>
<text x="108.7" y="133.5" font-size="8.5" fill="#111" font-weight="bold">T</text>
<text x="113.0" y="135.1" font-size="5.5" fill="#111" font-weight="bold" textLength="15.5" lengthAdjust="spacingAndGlyphs" stroke="#111" stroke-width="0.2">15min</text>
<text x="142.7" y="133.5" font-size="8.5" fill="#111" font-weight="bold">T</text>
<text x="147.0" y="135.1" font-size="5.5" fill="#111" font-weight="bold" textLength="15.5" lengthAdjust="spacingAndGlyphs" stroke="#111" stroke-width="0.2">30min</text>
<text x="175.5" y="133.5" font-size="8.5" fill="#111" font-weight="bold">T</text>
<text x="179.8" y="135.1" font-size="5.5" fill="#111" font-weight="bold" textLength="15" lengthAdjust="spacingAndGlyphs" stroke="#111" stroke-width="0.2">60min</text>
<text x="203.6" y="133.5" font-size="8.5" fill="#111" font-weight="bold">T</text>
<text x="207.9" y="135.1" font-size="5.5" fill="#111" font-weight="bold" textLength="18" lengthAdjust="spacingAndGlyphs" stroke="#111" stroke-width="0.2">120min</text>
<text x="80.4" y="147.86" font-size="6" fill="#222" textLength="104.6" lengthAdjust="spacingAndGlyphs">Time after transcription inhibition (min)</text>
<rect x="39.5" y="183" width="187.5" height="114" fill="#f4f4f4"/>
<g transform="scale(.5)">
<path d="M103 395h0m-2 8h0m-16-12h0m9 11h0m32-4h0m-4 0h0m-13 0h0m24-5h0m-13 12h0m-34-5h0m28 1h0m-11 0h0m-1 1h0m-16-3h0m21-6h0m-6-2h0m7 0h0m24 4h0m-17 7h0m9-11h0m3 5h0m-45 4h0m55-4h0m0 0h0m-40-4h0m16 6h0m-19-3h0m6-1h0m19 1h0m2 4h0m13 3h0m-45-10h0m14 8h0m4-8h0m16-3h0m-43 5h0m14 4h0m30-1h0m3 2h0m-31-11h0m8 16h0m20-3h0m0-1h0m-20-10h0m0 9h0m-14-4h0m44 0h0m-15 2h0m10-7h0m-40 12h0m8 0h0m30-1h0m-23 3h0m1-15h0m-22 7h0m39 0h0m-1-4h0m-26 9h0m13 8h0m9-16h0m-12 7h0m12-2h0m-33 0h0m15 0h0m11 3h0m7-6h0m10 1h0m-7 9h0m-3-7h0m-33-1h0m17-8h0m8 11h0m7 0h0m21-1h0m-15 6h0m-19-17h0m-2 14h0m-15-12h0m-6 3h0m39-5h0m7 13h0m8-4h0m-32-2h0m-21 2h0m51-9h0m-26 6h0m-1 4h0m-24-4h0m47 3h0m-24-7h0m10 8h0m15-2h0m-6 2h0m12 6h0m-41-7h0m40-3h0m-49 5h0m35-7h0m4 13h0m-13-8h0m-16 0h0m14 2h0m-7-8h0m25 6h0m-37-1h0m5 11h0m26-3h0m-19 1h0m27-8h0m-16 1h0m-24 4h0m6-8h0m25-1h0m-39 11h0m20-5h0m-7 0h0m42-10h0m-50 6h0m37 0h0m-36-1h0" stroke="#2990c4" stroke-width="2.4" stroke-linecap="square" stroke-opacity="0.5" fill="none"/>
<path d="M113 381h0m-5 19h0m3-5h0m6 12h0m-19-7h0m17 20h0m-17 7h0m-3-35h0m-8 12h0m-1-16h0m26 0h0m7 9h0m-28 9h0m15-2h0m17-8h0m-20 13h0m15-23h0m3 3h0m-35 8h0m51-17h0m-12 31h0m6-15h0m-43-1h0m17 7h0m15-17h0m-25 12h0m-8-16h0m39 15h0m8 3h0m-47 15h0m47-16h0m-16 13h0m-26-13h0m4-16h0m32 24h0m-7-7h0m-32-7h0m27 15h0m-27-20h0m22 7h0m-7 11h0m-3 1h0m-8-15h0m19 10h0m25-2h0m-24 5h0m-13-8h0m-14-19h0m45 17h0m-46 19h0m18-23h0m5 6h0m-24 10h0m18-10h0m19-9h0m-37 11h0m18-2h0m-22-7h0m23 7h0m-2-12h0" stroke="#4aa8d4" stroke-width="2.4" stroke-linecap="square" stroke-opacity="0.5" fill="none"/>
<path d="M120 438h0m5-67h0m-21 37h0m33 3h0m-27-2h0m-18 31h0m-8-17h0m-3-5h0m36-44h0m-29 7h0m22 42h0m-9 13h0m10-52h0m20 31h0m-5 24h0m-32-50h0m10-18h0m12 33h0m-3-11h0m-11 3h0m-2-17h0m21 46h0m-6-48h0m-31 53h0m-3-17h0m33-29h0m-16 35h0m1-48h0m25 69h0m12-9h0m-29 10h0m21-70h0m6 12h0m-13 55h0m15-54h0m-41 20h0m40-25h0m-25 58h0m-13-42h0m-15 22h0m14-45h0m33 36h0m-35 21h0m-6-42h0m-3 6h0m-1-11h0m-2 26h0m43-31h0m-34 64h0m4-50h0m43 12h0m-34-12h0m5 12h0m-5-11h0m3 51h0m14-52h0m-26-1h0m42 48h0m-38-6h0m-11-47h0m12 41h0m11-43h0m19-12h0m-23 59h0m25-1h0m-38-25h0m41 18h0m-33-25h0m1-23h0m16 27h0" stroke="#4aa8d4" stroke-width="2.4" stroke-linecap="square" stroke-opacity="0.5" fill="none"/>
<rect x="79" y="461.2" width="60.6" height="11.6" fill="#0b68aa" fill-opacity="0.75"/>
<path d="M137 462h0m-2 13h0m-34-6h0m-1-8h0m3-2h0m21 8h0m-5 3h0m-6-1h0m-22 4h0m2-4h0m18 1h0m9-13h0m17 17h0m-42-10h0m-4 8h0m40-13h0m0 4h0m-23 10h0m21-12h0m5 7h0m-6-3h0m-16 11h0m-5-7h0m25 5h0m-14-7h0m8-9h0m-28 20h0m6-14h0m3 4h0m31-1h0m-41-8h0m16 12h0m19-6h0m2-7h0m-14 1h0m-1-4h0m-13 8h0m5 3h0m12-4h0m2 5h0m6-2h0m-51 5h0m15-3h0m4-1h0m8-3h0m6-2h0m3 1h0m-29 7h0m3-5h0m28 11h0m1-4h0m-33-11h0m11 9h0m41 5h0m-7-10h0m2 9h0m-36-10h0m8 12h0m7-5h0m22-4h0m-39-8h0m-2 8h0m33-3h0m-26 6h0m-11-7h0m9 7h0m-17-5h0m52 6h0m-27 1h0m25-3h0m-3 2h0m-31 3h0m13-11h0m-24 8h0m27-2h0m-9 7h0m27-9h0m0 6h0m0-14h0m-26 16h0m12-5h0m-30 0h0m42 3h0m-46-12h0m17 6h0m36 1h0m-7-2h0m3-1h0m-41 8h0m-10-5h0m9-1h0m28 1h0m5 7h0m-6 3h0m-21-4h0m23-3h0m-8-10h0m23 4h0m-3-2h0m-17 0h0m12 11h0m-10-9h0m-15 10h0m12-6h0m-32-2h0m33 0h0m-3-6h0m2 5h0m-3 6h0m-2 0h0m11-3h0m-23 3h0m22-3h0m-24 1h0m26 11h0m-26-12h0m15-10h0m4-2h0m-22 7h0m6 5h0m24 4h0m-24-5h0m37 1h0m-19 2h0m14-8h0m-49 5h0m30 2h0m19-4h0m-10-2h0m-35 7h0m38 3h0m-31-6h0m-3-12h0m35 8h0m4 2h0m-36 4h0m-9-5h0m17 1h0m23 7h0m-17 2h0m-1-7h0m23-6h0m-24-1h0m17 10h0m-16-7h0m21 4h0m-24-1h0m-5 2h0m18 1h0m5-8h0m1 2h0m-21 5h0m35-1h0m-4-7h0m-40 17h0m-3-18h0m15 13h0m15-14h0m-13 14h0m34-15h0m-29 14h0m11-3h0m-29 3h0m22-8h0m-8 5h0m18 0h0m-21 0h0m3-4h0m-3 10h0m21-17h0m-3 2h0m-24 0h0m26 15h0m-14-12h0m6 1h0m-20 0h0m-1 2h0m-5 0h0m-1-1h0m51-5h0m-13 10h0m9-2h0m-13 8h0m3-6h0m-32-3h0m0-7h0m0 8h0m21 3h0m0 5h0m-24-6h0m11 2h0m26-1h0m-14 5h0m-8-2h0m31-6h0m-16-8h0m14 16h0m-52-8h0m43-4h0m-19-4h0m2-2h0m-25 11h0m29-2h0m19 2h0m-9 5h0m-9-10h0m-18 5h0m15-4h0m19-2h0m-28-7h0m1 8h0m-5 9h0m17-8h0m-24 4h0m36-1h0m5 10h0m-20-3h0m-25-11h0m52 2h0m-28 8h0m-17-5h0m30-1h0m-36 6h0m39-3h0m-25-2h0m-10 15h0m-2-14h0m17-9h0m-2 9h0m4-1h0m27 8h0m2-7h0m-9-5h0m-25 5h0m19-9h0m-12 5h0m-3 4h0m-17-7h0m8-6h0m42 5h0m-36 2h0m-15 7h0m25-6h0m3 2h0m-19-4h0m36 5h0m-52-4h0m27 7h0m30-2h0m-21 6h0m-5-4h0m25-5h0m-35-3h0m23 6h0m-33 2h0m7 5h0m7-11h0m-25-4h0m14-3h0m2 4h0m14 4h0m1 0h0m-6 0h0m1 1h0m14 2h0m3-10h0m12 9h0m-31-2h0m-17 0h0m4-1h0m3-8h0m-13 13h0m7-5h0m26 2h0m23 2h0m-49-2h0m27 2h0m-16 0h0m23-7h0m-38-1h0m15 10h0m23-8h0m-10 16h0m4-18h0m-24 7h0m-11-1h0m31 2h0m9-7h0m-4 7h0m-24 9h0m36-14h0m-50-8h0m12 15h0m11-2h0m-16 2h0m1-8h0m35 6h0m-29 3h0m19-7h0m-7 2h0m29 3h0m-13 1h0m-22-5h0m-10 2h0m-3 10h0m-2 0h0m15-16h0m29 17h0m-47-14h0m3 8h0m16-12h0m6 5h0m20-2h0m11 7h0m-22-3h0m-24 1h0m22 0h0m-2-1h0m-6 4h0m5-4h0m-4-1h0m-15-3h0m22-2h0m-13 2h0m15 5h0m14 3h0m0-6h0m-23 11h0m11-3h0m-24-7h0m10 2h0m3-2h0m30-9h0m1 13h0m-2-3h0m-40-10h0m21 14h0m3-8h0m8 2h0m9-8h0m-34 9h0m6 2h0m5-4h0m15 2h0m-5-10h0m-22 13h0m4-3h0m4 0h0m3 3h0m-16 2h0m41-5h0m-10 5h0m7 4h0m-19-15h0m-24 6h0m-6-9h0m12 11h0m-11 5h0m32-8h0m1-5h0m10 3h0m-20 5h0m24-10h0m-23 1h0m11 9h0m-17-9h0m34 7h0m-36-6h0m19-2h0m14 12h0m-1 2h0m-35-10h0m-14 16h0m42-11h0m-32 2h0m-13-2h0m52-7h0m-24 11h0m-9-4h0m-4 2h0m0-2h0m25-3h0m-25 14h0m7-10h0m5-3h0m-15 5h0m40-10h0m-36 8h0m13 12h0m-30-17h0m47 6h0m-25-9h0m-2 6h0m-16 6h0m15-11h0m5 0h0m10 11h0m-21-4h0m2 2h0m30-1h0m-26-10h0m22-2h0m-6-1h0m9 13h0m-45-10h0m21-2h0m11 6h0m18 2h0m-47 3h0m49-11h0m-14 16h0m5-12h0m-44 6h0m51-1h0m-19-5h0m-15 7h0m0 0h0m34 4h0m-47 4h0m21 1h0m18-6h0m-39-1h0m7-6h0m15-6h0m30 10h0m-10-5h0m-34 2h0m-4-1h0m35 4h0m1-4h0m13 15h0m-1-8h0m-26-7h0m-23 4h0m16 6h0m-20-14h0m31 7h0m10-3h0m-24 3h0m-13-3h0m2 3h0m33 2h0m-22 1h0m8-11h0m-3 11h0m9-3h0m-5-4h0m-6 3h0m7 9h0m18-9h0" stroke="#1275b6" stroke-width="2.4" stroke-linecap="square" stroke-opacity="0.5" fill="none"/>
<path d="M87 480h0m-1-6h0m26 23h0m24-12h0m-25-6h0m3 0h0m4-4h0m-25 4h0m36 3h0m-36-3h0m11 8h0m1-11h0m27-1h0m-4 4h0m-20 11h0m-24 9h0m2-22h0m-1 3h0m40-2h0m-5 0h0m-22 7h0m-7-2h0m44 4h0m-1-11h0m-49 1h0m33-1h0m14-1h0m-17 8h0m16-8h0m-49 8h0m29-6h0m-14 21h0m31-17h0m-19-1h0m15 29h0m-14-30h0m6 2h0m2 4h0m6-10h0m-29 6h0m24-3h0m-23-2h0m-10-1h0m21 3h0m11-4h0m10 9h0m-11 5h0m-18-3h0m-5 26h0m26-23h0m-22-12h0m37 12h0m-22-6h0m2-7h0m12 0h0m11 2h0m-28 7h0m-22 2h0m21 6h0m28-9h0m-6-7h0m-3 13h0m-37-12h0m3-1h0m42 12h0m-31 28h0m15-41h0m-14 4h0m2 2h0m19-6h0m-14 3h0m-18 38h0m18-4h0m1-32h0m-6 6h0m-20-8h0m45-1h0m-31-3h0m-2 2h0m-15 15h0m40-17h0m-10 2h0m12 9h0m1 2h0m-10-7h0m-30-5h0m20 2h0m16 5h0m-21-7h0m5 10h0m-21-3h0m10 5h0m14-7h0m16 2h0m-43 4h0m54-7h0m-55 11h0m41-9h0m-23-4h0m3 1h0m-20-4h0m26 3h0m17-1h0m-3 25h0m-38-23h0m48 41h0m-15-43h0m-17 25h0m9-22h0m7 14h0" stroke="#2990c4" stroke-width="2.4" stroke-linecap="square" stroke-opacity="0.5" fill="none"/>
<path d="M90 448h0m12 9h0m2 3h0m17-2h0m-35-6h0m0 1h0m17-8h0m-7 7h0m-2-7h0m19 12h0m16 1h0m-47-20h0m14 6h0m10 5h0m-16 8h0m19-1h0m8-13h0m-22 12h0m37 4h0m-41-2h0m43 2h0m-17-9h0m14 3h0m-15-2h0m8 8h0m2-2h0m-4 0h0m-33-1h0m18 1h0m-2-13h0m11 14h0m6-3h0m-29 1h0m31 1h0m-21-14h0m15 16h0m13-11h0m-51 12h0m1-11h0m40-5h0m-9 9h0m-3 4h0m17 0h0m-13-1h0m25-38h0m-1 41h0m-51-13h0m4-11h0m0 22h0m6-1h0m25-8h0m-1 6h0m-5-6h0m-18 8h0m30 3h0m-31-10h0m34 10h0m-20-1h0m9-23h0m-26 24h0" stroke="#2990c4" stroke-width="2.4" stroke-linecap="square" stroke-opacity="0.5" fill="none"/>
<path d="M130 494h0m-36 3h0m11 6h0m20-3h0m5-11h0m2 12h0m-3 2h0m9-6h0m-42-9h0m7-4h0m7 10h0m-9-8h0m6 1h0m15-9h0m-18 23h0m-10-19h0m17 21h0m-28-13h0m6 6h0m-6-8h0m10 6h0m16-6h0" stroke="#4aa8d4" stroke-width="2.4" stroke-linecap="square" stroke-opacity="0.5" fill="none"/>
<rect x="79" y="514.4" width="60.6" height="12.8" fill="#4e4e4e" fill-opacity="0.4"/>
<rect x="79" y="517.2" width="60.6" height="7.6" fill="#4e4e4e" fill-opacity="0.85"/>
<path d="M110 520h0m-3 3h0m-27-8h0m2 4h0m29-1h0m-14 4h0m-15 2h0m32-9h0m-11 2h0m4 2h0m-12-2h0m-4 9h0m7 1h0m6-3h0m32-1h0m-52-7h0m36 1h0m8 5h0m-33 5h0m41-8h0m-38 3h0m34 5h0m-50 1h0m8-11h0m28 5h0m11 2h0m-27-10h0m14 5h0m2 2h0m10-3h0m-39 5h0m46-4h0m-3-5h0m-10 1h0m13-3h0m-51 3h0m20 8h0m-5-1h0m-11 0h0m0 4h0m23-10h0m-11 2h0m-6 3h0m22 6h0m-6-5h0m24-2h0m-11 2h0m-29-5h0m9-5h0m35 10h0m-25-3h0m22 3h0m-33-6h0m36 1h0m-15 6h0m-6-2h0m19 3h0m-34-6h0m20 3h0m6 2h0m-15 1h0m-17-4h0m-3 2h0m-13-2h0m32 0h0m1 0h0m-10 2h0m27-7h0m-7 5h0m-14-4h0m-2 4h0m-13-1h0m39 2h0m-6-2h0m-10 1h0m-19-5h0m33 11h0m2-11h0m3-2h0m-34 9h0m9 0h0m-18-2h0m13-1h0m23-3h0m-10 12h0m1-15h0m5 16h0m-22-15h0m1 2h0m-21 3h0m15-1h0m40 4h0m-15-5h0m-10 2h0m13-5h0m-31 11h0m25-6h0m17-2h0m-22 3h0m-3 4h0" stroke="#555" stroke-width="2.4" stroke-linecap="square" stroke-opacity="0.4" fill="none"/>
<path d="M136 534h0m2 9h0m-29-14h0" stroke="#999" stroke-width="2.4" stroke-linecap="square" stroke-opacity="0.4" fill="none"/>
<path d="M188 400h0m-33-6h0m11 8h0m-16 1h0m4-2h0m3 1h0m5-6h0m31 6h0m2 0h0m-4 2h0m-10-3h0m-16-11h0m-18 10h0m42-9h0m-21 3h0m-1 3h0m-14 1h0m17-2h0m-3 3h0m16 1h0m5-2h0m-13 0h0m-2 1h0m7 1h0m14-7h0m4-3h0m-28 12h0m23-4h0m-42-12h0m3 16h0m3 0h0m29-13h0m-26 3h0m-5 3h0m27-4h0m-27 3h0m47 3h0m-12 5h0m-5-16h0m-11 11h0m-8 5h0m-15-16h0m21 13h0m-23-2h0m30-3h0m-35 7h0m19 2h0m5-1h0m-4 5h0m-5-13h0m6-6h0m1 7h0m-13 3h0m20 5h0m-11-3h0m17-6h0m-35 10h0m38-5h0m-16-1h0m1-2h0m-10 3h0m-12 1h0m52-3h0m-22-11h0m-19 7h0m34 6h0m-44 6h0m54-2h0m-49 0h0m42 3h0m4-5h0m0 3h0m-38-2h0m13-3h0m-31-6h0m7-3h0m37 10h0m-30-8h0m5 5h0m34 4h0m6-7h0m-5 8h0m-45-4h0m44-5h0m-8 7h0m-19 1h0m18-6h0m16 5h0m-14-8h0m-38 6h0m17 1h0m23-6h0m-39 5h0m13 7h0m9-10h0m16-3h0m-22-1h0m18 3h0m-43-1h0m33-3h0m4 8h0m-21 1h0m19-6h0m-23 5h0m16 4h0m-21-3h0m31 0h0m-29 2h0m3-6h0m48 7h0m-59 5h0m2-12h0m48-6h0m-10 5h0m-12-1h0m20 6h0m-46 5h0m15-3h0m11 5h0m2-6h0" stroke="#2990c4" stroke-width="2.4" stroke-linecap="square" stroke-opacity="0.5" fill="none"/>
<path d="M165 404h0m25-7h0m-44-5h0m29 7h0m-15 18h0m-3-22h0m39 4h0m-8-15h0m-3 9h0m11 9h0m-49-6h0m16 15h0m10-2h0m-5-14h0m-5 3h0m-15 8h0m50-3h0m-49-7h0m40-15h0m9 32h0m-28-14h0m-15 2h0m15-9h0m0 22h0m-9-16h0m-5 3h0m-14-22h0m3 15h0m6 4h0m8 5h0m-15 3h0m45-9h0m-40 12h0m5-12h0m-11 0h0m39 2h0m-13-17h0m-18-5h0m32 40h0m9-36h0m-34 11h0m-12 12h0m-1-12h0m27 17h0m26-30h0m-35 21h0m39 4h0m-28 16h0m-15-7h0m-12-22h0m32 16h0m5-6h0m8-15h0m-2 7h0m-33 16h0m8-14h0m10-6h0m3 3h0m-34-6h0m9-4h0" stroke="#4aa8d4" stroke-width="2.4" stroke-linecap="square" stroke-opacity="0.5" fill="none"/>
<path d="M150 389h0m-8 0h0m24 51h0m-4-31h0m11 3h0m-32 9h0m2-16h0m38-14h0m18-5h0m-25 5h0m-31-11h0m42 1h0m-32 47h0m39-52h0m-6 59h0m-25-63h0m13 50h0m-33-10h0m15-27h0m2 28h0m12-39h0m-14 66h0m39-70h0m-26 53h0m-6-15h0m24-3h0m-35 5h0m22-11h0m22 0h0m-8 42h0m-25-15h0m-19-37h0m17 9h0m-6 25h0m31-28h0m-25 46h0m1 0h0m-18-27h0m29 12h0m-27 16h0m39-6h0m8-4h0m-20-38h0m-22-3h0m27 46h0m-33-38h0m13 41h0m-9-32h0m8 14h0m-7 12h0m34-38h0m3 11h0m5-13h0m-39 49h0m33-46h0m14 32h0m-37-35h0m26 28h0m-5 17h0m2-41h0m-22 30h0m20 6h0m5-43h0m6 14h0m-18-33h0m-34 46h0m25-38h0m-15 53h0m-10-13h0m48 13h0" stroke="#4aa8d4" stroke-width="2.4" stroke-linecap="square" stroke-opacity="0.5" fill="none"/>
<rect x="139.6" y="461.2" width="63.2" height="11.6" fill="#0b68aa" fill-opacity="0.75"/>
<path d="M155 465h0m41 1h0m-23 1h0m-3-4h0m20 3h0m10-1h0m-14 3h0m10-4h0m-37 0h0m20-2h0m-36 1h0m10 2h0m11-3h0m23 11h0m-37-1h0m-5-4h0m-3 2h0m34-10h0m-15 3h0m5 1h0m8 4h0m27 3h0m-29 0h0m-23-12h0m43 7h0m-44 6h0m30-7h0m-31 4h0m32-11h0m-10 9h0m-13-2h0m-13-8h0m1 14h0m20 2h0m11-2h0m-3-6h0m-4 1h0m-4-3h0m28 7h0m-41-1h0m5 5h0m8-7h0m-16 4h0m-5-5h0m25-3h0m4 4h0m-14-5h0m-6 0h0m16 8h0m-4 0h0m29-7h0m-41-1h0m-4 4h0m26-3h0m-2 7h0m1-5h0m-32-5h0m57 2h0m-29 7h0m18 8h0m-14-8h0m-10-9h0m-3 2h0m35 5h0m-36-1h0m35 1h0m-23 10h0m21-16h0m8 1h0m-53 4h0m49 1h0m-7 1h0m-44 3h0m56-5h0m-49 6h0m40-5h0m-6 1h0m-32-10h0m22 4h0m-28 3h0m6 5h0m18-7h0m-6-1h0m13 1h0m-7 12h0m4-16h0m-2 9h0m5-1h0m-28 7h0m-6-4h0m41-5h0m13 6h0m-6 2h0m-7-8h0m-32-7h0m26 3h0m-35 6h0m34-5h0m4 5h0m-23 5h0m2-4h0m36 10h0m-51-12h0m26-5h0m-15 7h0m-4 4h0m37-12h0m-22 9h0m16 6h0m3-7h0m12 8h0m-58-17h0m45 11h0m-44-12h0m45 0h0m-20 1h0m29 13h0m-15-4h0m-30 6h0m1-12h0m39-4h0m-45 13h0m2-8h0m-5-4h0m27 12h0m10 1h0m-8-9h0m16 4h0m-8 2h0m-36-7h0m45 1h0m-48 5h0m39 7h0m-36-13h0m56 9h0m-51-1h0m44-2h0m-32-2h0m-21-3h0m24 7h0m30-4h0m-39-12h0m28 14h0m-36-5h0m14 3h0m17 11h0m-4-8h0m-19-13h0m-9 9h0m10-4h0m-8 11h0m14-22h0m20 20h0m-15-3h0m-17-2h0m35 4h0m-12 7h0m19-19h0m-49 7h0m24 3h0m-1 0h0m18-1h0m13 3h0m-31-1h0m33-3h0m-21-8h0m-16 13h0m-12 5h0m5-2h0m34-4h0m-20 4h0m-25-13h0m40 11h0m0-2h0m12-2h0m-3 6h0m-31-7h0m-8-1h0m3-3h0m2-4h0m36 7h0m-1 11h0m-30 1h0m-14-13h0m15 4h0m26 7h0m-41-13h0m6 3h0m34-5h0m-7 16h0m-11-12h0m9 1h0m-4 2h0m-5-4h0m-4 18h0m7-8h0m22 5h0m-11-21h0m-6 14h0m6-5h0m5-4h0m-8 6h0m-2 8h0m11-2h0m-29-9h0m-7 21h0m-11-12h0m39-11h0m-26 0h0m18 1h0m-5 3h0m-18-2h0m37-1h0m-43 9h0m1-9h0m24 4h0m-10-3h0m-20 1h0m-1 8h0m11-6h0m21 4h0m17-4h0m-38 6h0m23-6h0m-3 6h0m20-13h0m-2 13h0m-43-4h0m49-7h0m-50 1h0m53-7h0m-7 9h0m-2 3h0m-10-4h0m-13 8h0m16-17h0m6 10h0m-48-5h0m11 4h0m6 7h0m-13-5h0m49 8h0m-40-9h0m22-2h0m0 2h0m6-6h0m-33 3h0m35 4h0m-30 5h0m9-10h0m23 1h0m-11-4h0m0 1h0m-18 7h0m-12 0h0m49 2h0m-42-3h0m16 6h0m6-14h0m20 9h0m-37 3h0m35-5h0m-11 4h0m-27-3h0m0-1h0m29 3h0m-23-4h0m23 3h0m-6 3h0m-17-9h0m7 10h0m-7 2h0m-7 3h0m10-11h0m-9 8h0m-1-16h0m33 3h0m-14 7h0m-27-6h0m-2 1h0m45 0h0m-14 3h0m15-2h0m-35-1h0m26 5h0m-3-3h0m-32 3h0m33 1h0m14 2h0m-24-4h0m9-1h0m-15 0h0m17-4h0m9 8h0m-15-2h0m11 5h0m-11-4h0m17-4h0m-39 7h0m26-6h0m21 1h0m-44 3h0m-5-1h0m-6-5h0m9 7h0m28-1h0m8-2h0m8-1h0m-47 2h0m37-9h0m9 14h0m5-19h0m-5 8h0m-11 0h0m-35 7h0m5-2h0m33 2h0m-16-9h0m29 13h0m-48-2h0m9-15h0m36 12h0m-48-11h0m44 7h0m-3 5h0m-3-2h0m-38-7h0m-3 3h0m23 9h0m-14-5h0m0 3h0m-3-12h0m-2 11h0m49-1h0m-26-6h0m-12 12h0m35-8h0m-46 5h0m3-7h0m-11 5h0m51 0h0m-28-3h0m27 1h0m-17 1h0m-15-2h0m-8-6h0m-8 8h0m51-2h0m-28 2h0m-11-5h0m27 11h0m-41-3h0m37 3h0m-38 2h0m5-4h0m10-7h0m30-5h0m-10 13h0m14-5h0m9 3h0m-20 2h0m-10-7h0m9-4h0m-37 7h0m7-4h0m41-2h0m-23 6h0m7-3h0m17 3h0m-43-8h0m7 5h0m6-1h0m26 2h0m10-3h0m-45 6h0m49-10h0m-31 9h0m-21 3h0m13-5h0m-9 0h0m15-4h0m-16 5h0m14 1h0m1-1h0m-14 1h0m2 0h0m21-1h0m16-10h0m-5 3h0m13 5h0m-39 12h0m21-6h0m5-5h0m-30-1h0m13-1h0m-6 5h0m-23-5h0m15 2h0m24-5h0m-18 3h0m-1-3h0m-15 1h0m16 2h0m-20 8h0m17-4h0m24 3h0m-3-8h0m13 4h0m-26-4h0m-2 2h0m9 0h0m-27-7h0m-4 8h0m22-6h0m3 8h0m10-5h0m-26-5h0m15 2h0m-11 1h0m33 12h0m-28-14h0m19 5h0m7 3h0m-29-2h0m-9 0h0m2 4h0m48-7h0m-49 12h0m45-2h0m-26-5h0m17 5h0m10-6h0m-6-2h0m-32-4h0m15 2h0m14 7h0m-36-2h0m29 7h0m-27-1h0m-10-3h0m49-4h0m-51 8h0m56-9h0m-40-11h0m-2 10h0m38 4h0m-37 0h0m10 1h0m3 1h0m-14-17h0" stroke="#1275b6" stroke-width="2.4" stroke-linecap="square" stroke-opacity="0.5" fill="none"/>
<path d="M152 479h0m19 3h0m-25 6h0m1-4h0m26 3h0m9 0h0m-21-13h0m-15 0h0m45 6h0m10-5h0m-60 24h0m22-12h0m17-7h0m21-2h0m-28 22h0m2-7h0m-26-17h0m26 18h0m-28-1h0m54-9h0m-2-5h0m-50-1h0m-3 14h0m54-18h0m-45 8h0m-1-7h0m27 17h0m7-10h0m5-7h0m-5 1h0m9-1h0m-40 6h0m14 2h0m24-3h0m3 10h0m-4-11h0m-39-2h0m42-2h0m-55-1h0m1 7h0m-1 24h0m20-24h0m-18 3h0m5 4h0m40-11h0m-23 9h0m-11-1h0m43-4h0m-7 9h0m-45-7h0m32 5h0m5-7h0m10 4h0m7-9h0m-41 6h0m3-6h0m37 4h0m-42-4h0m35-2h0m-3 7h0m-19-1h0m26-2h0m-18-2h0m-11 4h0m18-4h0m-38 31h0m28-26h0m-26-3h0m3 5h0m45 24h0m-42-26h0m3 11h0m31-7h0m11-8h0m-3 5h0m-2 2h0m-46-7h0m18 2h0m34 4h0m-22 19h0m-8-8h0m1-4h0m29-9h0m-28 5h0m26-5h0m-45-7h0m18 13h0m-28-12h0m42 0h0m-23 1h0m10 7h0m-18-2h0m-6 1h0m51-3h0m-2 23h0m-52-23h0m-2 3h0m23 18h0m25-26h0m5 0h0m-10 5h0m12-1h0m-5-2h0m-22 26h0m29-25h0m-46-2h0m40-1h0m-28 2h0m14 2h0m17 3h0" stroke="#2990c4" stroke-width="2.4" stroke-linecap="square" stroke-opacity="0.5" fill="none"/>
<path d="M192 452h0m8-9h0m-9-13h0m5 23h0m-42-6h0m42 12h0m-17 0h0m1-6h0m-13 2h0m5 5h0m-5-15h0m12 10h0m9 3h0m-14 1h0m-5-2h0m-7-26h0m-11 26h0m3-4h0m15 6h0m14-10h0m18 6h0m-11 1h0m-22 2h0m-2 1h0m27-1h0m-8-2h0m7-2h0m8 3h0m-39-4h0m0 6h0m30-7h0m-5 3h0m-16 0h0m10-4h0m3 2h0m-24-7h0m-15 3h0m24 7h0m2 1h0m22-19h0m-45 19h0m27-22h0m-17 23h0m0 1h0m6-17h0m-14 2h0m42-4h0m-4 13h0m-43-3h0m20 8h0m22-11h0m11 7h0m-4 2h0m-7 4h0m-14-5h0m-24-3h0m50 0h0m-32-3h0m3 8h0m-2 3h0" stroke="#2990c4" stroke-width="2.4" stroke-linecap="square" stroke-opacity="0.5" fill="none"/>
<path d="M141 499h0m23 0h0m-9-23h0m11 17h0m-2 1h0m8-8h0m-8 7h0m-3-9h0m18 1h0m-22-6h0m6-2h0m13 5h0m24 8h0m1-4h0m-33-1h0m9 16h0m2-24h0m22 1h0m-46 5h0m-7 8h0m48-9h0m-11 16h0" stroke="#4aa8d4" stroke-width="2.4" stroke-linecap="square" stroke-opacity="0.5" fill="none"/>
<rect x="139.6" y="514.4" width="63.2" height="12.8" fill="#4e4e4e" fill-opacity="0.4"/>
<rect x="139.6" y="517.2" width="63.2" height="7.6" fill="#4e4e4e" fill-opacity="0.85"/>
<path d="M176 515h0m-3 0h0m14 5h0m-27 0h0m-13-5h0m43 5h0m-22 3h0m24-3h0m-41 10h0m-7-6h0m41-7h0m-14 3h0m-3-5h0m13 14h0m0-10h0m8 0h0m-14 4h0m-10-4h0m-12-1h0m15 2h0m14 5h0m-35 0h0m41-10h0m-8-1h0m-8 8h0m-16-3h0m16 0h0m-15 6h0m11-3h0m18-4h0m-24 5h0m29-6h0m7 1h0m1 10h0m-40-9h0m-7 4h0m28-4h0m2 0h0m17-3h0m-9 0h0m-42 10h0m-1 3h0m-3-6h0m16 0h0m-11-5h0m21 2h0m-19 7h0m50 4h0m-26-8h0m7-1h0m10 3h0m6-4h0m-35-3h0m-7-1h0m26 3h0m-27-1h0m26-8h0m-34 2h0m15 11h0m17 1h0m5-1h0m7-4h0m-46-2h0m3 2h0m52 2h0m-11-3h0m-42 6h0m52-7h0m-31-7h0m-12 12h0m-8 1h0m-1-4h0m52 5h0m-29 0h0m22-15h0m-18 12h0m19-6h0m-20 7h0m22-1h0m-50 2h0m49-4h0m-42-2h0m43 4h0m-45 9h0m18-9h0m-3-6h0m-2 5h0m-5-1h0m-4 6h0m5-5h0m15-2h0m13 2h0m-2-3h0m-4 5h0m-17-7h0m-6 3h0m-4 3h0m13-7h0m32 0h0m-44 3h0" stroke="#555" stroke-width="2.4" stroke-linecap="square" stroke-opacity="0.4" fill="none"/>
<path d="M152 531h0m7 9h0m10-12h0" stroke="#999" stroke-width="2.4" stroke-linecap="square" stroke-opacity="0.4" fill="none"/>
<path d="M239 417h0m1 0h0m0-38h0m2 25h0m-1-26h0m-30-6h0m14 32h0m4 28h0m31-5h0m-25-6h0m-30-46h0m3 34h0m53-16h0m-9 20h0m-14 14h0m-24-43h0m-4 37h0m42-50h0m-13 9h0m20 23h0m-40 21h0m38 6h0m-12-46h0m-17 38h0m21 12h0m-36-20h0m46 0h0m-39 9h0" stroke="#4aa8d4" stroke-width="2.4" stroke-linecap="square" stroke-opacity="0.5" fill="none"/>
<path d="M210 382h0m40 16h0m5 8h0m-8-21h0m-3 18h0m-4-7h0m17-14h0m-30 23h0m23 3h0m-9-39h0m8 36h0m8-12h0m-51 3h0m21-16h0m22 8h0" stroke="#4aa8d4" stroke-width="2.4" stroke-linecap="square" stroke-opacity="0.5" fill="none"/>
<rect x="202.8" y="461.2" width="59.2" height="11.6" fill="#0b68aa" fill-opacity="0.75"/>
<path d="M206 459h0m26 13h0m-25-5h0m23-2h0m-14 8h0m-9-10h0m32 1h0m-20-1h0m14-1h0m16 4h0m-24-2h0m-14 10h0m0-11h0m15 10h0m-21-11h0m20 3h0m-6 2h0m36-5h0m-40 8h0m45-6h0m-28-1h0m-9 8h0m30-8h0m-2 7h0m0 3h0m-7-2h0m-40 3h0m21-9h0m35 8h0m-22-9h0m10-6h0m-32 8h0m5 11h0m19-15h0m-21 14h0m40-16h0m-9 12h0m-14-3h0m15-4h0m-21-10h0m-15 15h0m46 0h0m-20-1h0m-28 3h0m6-9h0m9 14h0m-17-5h0m49-9h0m-20 15h0m1-11h0m2 2h0m-29 2h0m27-9h0m-22 0h0m-4 4h0m40-5h0m-1 5h0m-9 8h0m-15-13h0m9 6h0m13-3h0m-27 7h0m-13-10h0m48 0h0m-42 5h0m28 11h0m-36-15h0m22-4h0m16 4h0m11 8h0m-12 1h0m12-5h0m-49 2h0m40-9h0m-30 10h0m-10-3h0m18-3h0m0 9h0m25 0h0m6-8h0m-38 4h0m2-12h0m10 5h0m-4 12h0m3-12h0m7 1h0m-11 10h0m31-18h0m-28 9h0m14 7h0m-26-6h0m-7-2h0m19-1h0m10 7h0m-4-6h0m-27 6h0m44-2h0m-4 0h0m7 6h0m-23-8h0m9-2h0m-2 4h0m-29 2h0m-4-2h0m8-8h0m35 12h0m-47-13h0m49-1h0m-17 15h0m-22 3h0m40-9h0m-26-3h0m-15 12h0m6-14h0m7 6h0m5-2h0m-22 6h0m-5-2h0m11-5h0m37 9h0m-47-1h0m25-4h0m29-2h0m-48 1h0m46-6h0m-37 6h0m22-1h0m3 5h0m16-4h0m-37-1h0m-13 3h0m-3 4h0m51-2h0m-17-4h0m13-1h0m-49 9h0m53-7h0m-6-6h0m-16 7h0m8-10h0m-10 6h0m25 6h0m-8-4h0m-44-1h0m9 6h0m-7 2h0m14-11h0m-12-1h0m14 2h0m9-2h0m-20 8h0m34 2h0m11-5h0m-44-5h0m13-2h0m20 7h0m-25-3h0m27 6h0m-21-9h0m8 4h0m-24 1h0m42 7h0m-6-1h0m-36-2h0m-3-1h0m27 2h0m9-13h0m-7 14h0m-10-6h0m4 9h0m26-2h0m-12 1h0m-2-10h0m7 19h0m-38-12h0m-3-2h0m32-4h0m-16 5h0m19-13h0m-40 18h0m40-4h0m-28-3h0m-3 7h0m22-4h0m-14-1h0m37-5h0m-6 5h0m-37-8h0m28 0h0m-36 7h0m29-4h0m-9-4h0m29 6h0m-11-8h0m2 17h0m-5-13h0m-13 0h0m-7 13h0m2-16h0m-4-3h0m-14 11h0m38-1h0m-12 6h0m-21-5h0m2-8h0m10 9h0m25-2h0m-27 7h0m-19-4h0m1-7h0m25 1h0m18 4h0m-23-2h0m14 3h0m-5 0h0m0-7h0m-11 7h0m-15 3h0m22-10h0m2-1h0m-15 11h0m-8-1h0m-1 2h0m32 4h0m-6-10h0m-5-4h0m13 6h0m-24-4h0m32 5h0m-19 2h0m3-3h0m-25 2h0m26-3h0m-21 1h0m27-7h0m-26 15h0m-6-12h0m27 1h0m-20-2h0m33 3h0m-24-1h0m21-8h0m-5 18h0m-16-6h0m5-3h0m17 1h0m-34 5h0m31-1h0m-15-2h0m-13 3h0m-13-18h0m56 17h0m-43-5h0m21-3h0m-31-1h0m34 5h0m8-9h0m-42 11h0m23-6h0m8 8h0m21-13h0m-7 11h0m-40-5h0m0-3h0m-5 12h0m48-1h0m-33-10h0m-5 3h0m15 9h0m26-7h0m-32-4h0m-7-1h0m18 1h0m-12 7h0m29 1h0m-1-6h0m-25-4h0m18 1h0m-7-5h0m-13 12h0m30-3h0m-19 6h0m-13 6h0m15-5h0m-1-9h0m-13 1h0m33-6h0m1-4h0m-54 21h0m24-8h0m8-10h0m-20 12h0m32-15h0m-6 10h0m-10 2h0m15-4h0m-15 0h0m-21 7h0m48-7h0m-22 9h0m-32-15h0m35 7h0m-31 11h0m22-14h0m24 0h0m-22 5h0m-1-2h0m20 3h0m-2 4h0m-36-2h0m0-2h0m3-3h0m-4 3h0m-4 4h0m39-10h0m-2 3h0m-43-4h0m4 6h0m49 1h0m-22-4h0m4-3h0m-28 2h0m-1 7h0m38-6h0m-16 7h0m-1-7h0m13-1h0m-28 8h0m-5-8h0m5 10h0m1-17h0m-10 11h0m15-3h0m-2 1h0m31 3h0m-21-11h0m-8 21h0m34-13h0m0 15h0m-27-8h0m15-4h0m-30-9h0m18 17h0m-22-5h0m-5 3h0m21-15h0m-22-1h0m12 7h0m13 5h0m-6 1h0m-13 3h0m32-11h0m-31-3h0m13 11h0m-9-9h0m26 5h0m-24 11h0m27-13h0m13 4h0m0 0h0m-25-2h0m27 2h0m-33 1h0m-7-2h0m-1 7h0m19-3h0m-8-10h0m4 13h0m-15-7h0m18-2h0m-11-3h0m-8 8h0m-8-4h0m41-4h0m-15 0h0m21 10h0m-39-7h0m1-1h0m15 16h0m26-12h0m-29 2h0m22-3h0m-26-1h0m28-5h0m-32 9h0m19-2h0m16-6h0m-19 4h0m-21 10h0m32-8h0m-1-1h0m6-4h0m-7 0h0m-37 6h0m10 2h0m13-3h0m-6 3h0m33-9h0m-46 2h0m-4 4h0m46 5h0m-32-9h0m-8 7h0m29-10h0m5 11h0m-4 1h0m-34-8h0m45 3h0m-9 2h0m13-7h0m-17 1h0m-27 0h0m37 5h0m0 2h0m-25-9h0m-9 1h0m20 7h0m-5-7h0m-3 3h0m-14 5h0m30-4h0m0 5h0m-17-5h0m-22-1h0m36-3h0m8-8h0m-41 10h0m38-8h0m7 14h0m-40 0h0m23-2h0m-15 4h0m22 5h0m0-20h0m-17 8h0m23 5h0m-41-6h0m21 1h0m8 6h0m7-3h0m-7-10h0m-10 15h0m10-12h0m6 6h0m-12 2h0m-12-12h0m36 18h0m-50-6h0m18-1h0m-9 2h0" stroke="#1275b6" stroke-width="2.4" stroke-linecap="square" stroke-opacity="0.5" fill="none"/>
<path d="M246 479h0m-21 0h0m-6 3h0m12-7h0m-15 1h0m17 4h0m-12 14h0m-17-18h0m6 0h0m48 0h0m-21 33h0m10-25h0m-37 4h0m11 12h0m20-23h0m-25 5h0m19-8h0m-30 2h0m24 23h0m-13-2h0m-6-16h0m43-4h0m-31 19h0m-7-9h0m21-11h0m0 6h0m-16 2h0m14-9h0m23 7h0m-47-4h0m2 4h0m-5 33h0m26-24h0m-16-15h0m39-1h0m0 19h0m-9-12h0m-22-8h0m6 3h0m-17-2h0m38 19h0m-5-9h0m-20 1h0m-17-12h0m31 1h0m13 7h0m5-1h0m-17-2h0m-15 5h0m34-6h0m-11 3h0m-4 5h0m-25-10h0m39 12h0m-25 3h0m24-17h0m-54 0h0m32 7h0m-2-1h0m22-5h0m-2-1h0m-13 9h0m-16-2h0m16-2h0m-25-3h0m27-1h0m-12 5h0m-9-5h0m17 2h0m-4-2h0m-24 6h0m47 6h0m-39-13h0m32 4h0m4 13h0m-22-12h0m22-3h0m3 11h0m-53-10h0m26 13h0m12-14h0m16 11h0m-12-8h0m13 4h0m-28-3h0m11-4h0m-30 22h0m14-23h0m-12 17h0m42 0h0m-9-15h0m7 0h0m-32-1h0m23 11h0m-32-12h0m20 10h0m5-8h0m0 7h0m13-4h0m-35-5h0m30 10h0m-13-5h0m-14-3h0m32 10h0m-37 0h0m5-8h0m0-4h0m20 5h0m-30 12h0m41-6h0" stroke="#2990c4" stroke-width="2.4" stroke-linecap="square" stroke-opacity="0.5" fill="none"/>
<path d="M252 453h0m-15-1h0m-16 4h0m-8-10h0m-8 10h0m23 3h0m29 0h0m-37-5h0m-15 5h0m42-1h0m-10-1h0m-25-16h0m12 2h0m1-5h0m23 11h0m-44 1h0m14 9h0m21 0h0m-5-5h0m-14-15h0m17 13h0m3 2h0m3-4h0m-29 4h0m36 5h0m-45-9h0m26 9h0m-9 1h0m13 0h0m24-11h0m1 3h0m-30-6h0m12 13h0m1-1h0m-25-19h0m-9 14h0m19 1h0m-1 4h0m20-2h0m-42 2h0m16-19h0m18 17h0m22-1h0m-50 1h0m12-7h0m35 10h0m-46-9h0m26-11h0m0 21h0m21-3h0m-24-1h0m25-3h0m-20 4h0m-24-23h0m27 25h0m15-1h0m-33-4h0m18 0h0m-33-4h0m7 0h0" stroke="#2990c4" stroke-width="2.4" stroke-linecap="square" stroke-opacity="0.5" fill="none"/>
<path d="M204 485h0m52 14h0m-24-7h0m-11-8h0m-1 2h0m-6 1h0m-1 13h0m1 0h0m31 3h0m-23-6h0m18-20h0m19 4h0m-15 19h0m12-10h0m-33-2h0m32 14h0m-26-8h0m-16 3h0m45 7h0m-3-7h0m-16-6h0m-20 2h0" stroke="#4aa8d4" stroke-width="2.4" stroke-linecap="square" stroke-opacity="0.5" fill="none"/>
<rect x="202.8" y="514.4" width="59.2" height="12.8" fill="#4e4e4e" fill-opacity="0.4"/>
<rect x="202.8" y="517.2" width="59.2" height="7.6" fill="#4e4e4e" fill-opacity="0.85"/>
<path d="M206 523h0m26-1h0m19-6h0m-12 6h0m-2-3h0m11-5h0m-13 6h0m-8 3h0m10-2h0m-29-2h0m33-2h0m-29 3h0m33 2h0m-19-1h0m14 4h0m-27-2h0m38 1h0m-12-5h0m-14 3h0m5-2h0m26 2h0m-48-1h0m6 9h0m42-14h0m-41 6h0m36-4h0m-37 4h0m12-1h0m-10 5h0m19-6h0m-6-2h0m31 4h0m-56-1h0m46-9h0m-19 16h0m2-11h0m-8 9h0m-14-1h0m5 1h0m28-5h0m-38-4h0m16 0h0m8 8h0m28-6h0m-43 3h0m35-3h0m-14-1h0m-32 6h0m10-7h0m40 3h0m-42-1h0m32 2h0m-30-1h0m35-4h0m-40 3h0m50 0h0m-39 9h0m9-4h0m-20-4h0m11 1h0m33-2h0m-12 8h0m18-7h0m-15-3h0m-21 19h0m32-19h0m-42 1h0m8-1h0m11 5h0m4-4h0m-6-1h0m-23 7h0m16 2h0m32-4h0m-15-6h0m-2 6h0m10-4h0m-28 4h0m3 0h0m34-6h0m-11 8h0m15-3h0m-27-1h0m-13-4h0m9 8h0m21-6h0m-42 3h0m36-4h0m-28-1h0m4 0h0m-1-2h0m5 5h0m-14 7h0m-5-1h0m21-8h0m-9 0h0m21 10h0m-32-3h0m44-3h0m-3-2h0" stroke="#555" stroke-width="2.4" stroke-linecap="square" stroke-opacity="0.4" fill="none"/>
<path d="M221 537h0m33 6h0m5-11h0" stroke="#999" stroke-width="2.4" stroke-linecap="square" stroke-opacity="0.4" fill="none"/>
<path d="M301 381h0m-13 25h0m28 12h0m-16-6h0m-7 16h0m19-18h0m-19-3h0m-28 27h0m37-39h0m-22 48h0m-10 0h0m16-24h0m31-35h0m-28 24h0m19-28h0m-16 20h0m-11 15h0m22-40h0m13 59h0m-37-59h0m38 47h0m-15 9h0m11 7h0m-16-2h0m-5-26h0m-7 26h0m19-41h0m-23-9h0" stroke="#4aa8d4" stroke-width="2.4" stroke-linecap="square" stroke-opacity="0.5" fill="none"/>
<path d="M318 401h0m-42-3h0m36 1h0m8 11h0m-38-15h0m17 6h0m-4 11h0m21-15h0m-13-23h0m-26 18h0m18 0h0m2-4h0m14 18h0m-40-6h0m35-11h0" stroke="#4aa8d4" stroke-width="2.4" stroke-linecap="square" stroke-opacity="0.5" fill="none"/>
<rect x="262" y="461.2" width="61.6" height="11.6" fill="#0b68aa" fill-opacity="0.75"/>
<path d="M271 464h0m24 1h0m23 8h0m-14-12h0m-32 9h0m34 8h0m-40-12h0m30-8h0m-29 13h0m12-6h0m14 8h0m-19-4h0m-8-1h0m-2-6h0m35 10h0m23-3h0m-23 0h0m-4 0h0m27 0h0m-13-2h0m-27-1h0m13-8h0m-24 6h0m17 1h0m21 7h0m-27 0h0m13-10h0m-3 2h0m-14-1h0m13 5h0m-7 0h0m-19 2h0m5-7h0m9 2h0m-12 12h0m13-16h0m-6 13h0m13-3h0m33 1h0m-37-5h0m-12 0h0m4 4h0m-4-5h0m14 1h0m31-2h0m-22 4h0m-31-3h0m21-1h0m-9 5h0m17-2h0m-25-8h0m43 7h0m-29 7h0m6-5h0m-16 6h0m29-17h0m-7 11h0m-13-12h0m42 13h0m-17-6h0m-33 2h0m18 3h0m7-6h0m-21 0h0m44 2h0m1 5h0m-55 4h0m8-11h0m-4-1h0m33 5h0m20-6h0m-53-1h0m35 9h0m4-5h0m-39 10h0m-3-12h0m15 12h0m-4-1h0m-14-8h0m44 3h0m9-15h0m0 15h0m-39-1h0m26-4h0m5 10h0m0-18h0m-30 15h0m14-3h0m24 1h0m-7-9h0m-7 11h0m-38-6h0m41 3h0m-33 4h0m26-9h0m16-10h0m-41 16h0m15 0h0m4-3h0m12-2h0m15-1h0m-47 5h0m26 3h0m19-5h0m-40 8h0m2-7h0m9 4h0m6-4h0m-11 1h0m23 5h0m-41-1h0m0 2h0m22 0h0m-1-5h0m16 3h0m-2-1h0m10 0h0m-12 1h0m-10-3h0m0 0h0m-25 2h0m11-7h0m6 9h0m9 0h0m-20-15h0m36 14h0m1-7h0m-22-1h0m20 8h0m5-8h0m1 5h0m-42-4h0m1-3h0m51 15h0m-12-13h0m-32-2h0m9 4h0m2 11h0m-16-17h0m42 14h0m-12-9h0m-10 4h0m7-1h0m1 5h0m13-9h0m-17 14h0m20-12h0m-39-5h0m6 8h0m18 3h0m-37 0h0m44 1h0m-24-6h0m-5 9h0m-9-3h0m0-9h0m27 2h0m-4-1h0m15 2h0m-33 2h0m35-3h0m-27 2h0m10 4h0m2 1h0m-25 3h0m31-23h0m-12 12h0m-15 0h0m1 1h0m26-2h0m-20 0h0m35 8h0m-19 3h0m14-12h0m-29 9h0m9-15h0m-23 14h0m40 6h0m-28-4h0m10-9h0m29 0h0m-47 3h0m-1 8h0m-1-5h0m13-1h0m2 2h0m-6-8h0m0-6h0m38 8h0m-25 1h0m10 4h0m-27-1h0m-10 16h0m27-19h0m-24-1h0m42 10h0m-42-6h0m43 9h0m-1 0h0m-30-5h0m18-1h0m-6-11h0m14 14h0m-19-5h0m26 2h0m-32 2h0m35-5h0m-19-5h0m-30 2h0m14-2h0m21 9h0m-20-5h0m-2 1h0m10-3h0m30 2h0m-32-5h0m-16 6h0m17-6h0m18 7h0m-32-3h0m11 4h0m-20 3h0m28-3h0m-31-2h0m19 4h0m10-7h0m15 2h0m8 3h0m-8-10h0m-9 4h0m-34 14h0m34-9h0m21 0h0m-43 2h0m40-4h0m-3-2h0m0 1h0m-25 7h0m-15 3h0m47-11h0m-39 2h0m-2 3h0m-11-8h0m13 6h0m26 5h0m0 0h0m-19 7h0m33-14h0m-10 2h0m-6 4h0m-34-3h0m-7 5h0m0-6h0m-1-9h0m52 5h0m-23-5h0m30 10h0m-34 5h0m-18-3h0m14-6h0m30-7h0m-21 10h0m6-4h0m4 0h0m-37 4h0m8 12h0m2-15h0m-3-1h0m-6-4h0m3 12h0m34-9h0m-37-5h0m34 7h0m-26 4h0m32-8h0m-33 6h0m19-8h0m25 14h0m-53-12h0m6 6h0m49-5h0m-9 2h0m-35 5h0m-1-5h0m36 3h0m-42 6h0m29 7h0m23-9h0m-32-4h0m-7 1h0m-14-7h0m7 1h0m0 0h0m46 7h0m-13-2h0m-5-2h0m-38 14h0m27-12h0m-12 4h0m-5-1h0m28-3h0m-38 3h0m29-11h0m-3 9h0m-2 4h0m-25 4h0m4-10h0m6 8h0m39-3h0m-18-6h0m2-6h0m20 10h0m-10-5h0m-13 9h0m4-4h0m-25-9h0m23 5h0m10 4h0m-10 5h0m4-20h0m-32 16h0m1-9h0m49 5h0m-31-3h0m9 9h0m26-3h0m-33 7h0m15-2h0m-9-11h0m-13-7h0m-17 10h0m-1-2h0m32 4h0m0-5h0m17 1h0m-34 7h0m-5-3h0m23-4h0m-25 5h0m24-6h0m-31 4h0m31 5h0m-31-7h0m24-5h0m-8 8h0m-10-3h0m38 11h0m-29-10h0m39-2h0m-8-3h0m9-6h0m-20 8h0m18 4h0m-42-5h0m9 8h0m0 2h0m-18-1h0m-3-7h0m51-1h0m5 8h0m-53-7h0m-3 0h0m0 0h0m3 10h0m40-17h0m-20 16h0m-3-1h0m4 3h0m30-6h0m-22 10h0m14-8h0m-2-8h0m-38-3h0m37 7h0m-23 2h0m33 0h0m-40 3h0m4 1h0m27-19h0m-20 13h0m17 0h0m4 3h0m12-7h0m-3 10h0m-15-6h0m-26 7h0m19-10h0m-22 2h0m-2-6h0m18 2h0m-22 3h0m53-1h0m-22 5h0m10 0h0m-25-2h0m16 0h0m-14-6h0m3 4h0m5 1h0m-25-3h0m34 8h0m-7-1h0m-10-7h0m20 1h0m-40 2h0m5 1h0m31 7h0m-22-8h0m-8-2h0m-8 5h0m40 1h0m-19 3h0m-21-11h0m43 3h0m-37 3h0m29-1h0m-22-8h0m0 10h0m26 5h0m-2-4h0m13-4h0m-19-5h0m-14 0h0m35 5h0m-46-3h0m0 0h0m4-5h0m20 11h0m-12 2h0m5-5h0m11 4h0m-17-3h0m-11 8h0m35-9h0m17 0h0m-29-6h0m13 6h0m-36-2h0m2 0h0m50 10h0m-45-4h0m12 2h0m3-4h0m21-6h0m8 5h0m-29 5h0m20-10h0m-13 4h0m16 0h0m1 6h0" stroke="#1275b6" stroke-width="2.4" stroke-linecap="square" stroke-opacity="0.5" fill="none"/>
<path d="M291 481h0m4-1h0m-10-6h0m20 37h0m-15-32h0m-22 2h0m50 2h0m-37 2h0m7 0h0m29 8h0m-36-15h0m32-4h0m-15 0h0m-5 21h0m8-12h0m19 4h0m0-10h0m-7 0h0m-2-2h0m-45 2h0m29 9h0m21-7h0m-17 8h0m-10-1h0m28 11h0m-42-22h0m7 7h0m-6-1h0m-1-6h0m18 1h0m-1 6h0m-11 3h0m-11 1h0m48-7h0m-23 2h0m-5-4h0m30 4h0m-44-5h0m2-1h0m44 7h0m-10-6h0m-19 22h0m-1-21h0m-5-2h0m27-1h0m-17 6h0m-23-5h0m1 10h0m16-10h0m-19 3h0m33-1h0m-23 1h0m-19 1h0m11-1h0m36-3h0m-1 9h0m-20 6h0m-25-11h0m4 0h0m11 13h0m21-18h0m15 32h0m-8-32h0m-3 5h0m7 1h0m-15-5h0m0 9h0m-16-4h0m-1 5h0m26 21h0m0-25h0m-38 10h0m32-13h0m20 4h0m-36 0h0m32-7h0m-13 16h0m5-9h0m7 5h0m-50-11h0m32 7h0m-20 8h0m-7 0h0m4-15h0m41 9h0m-17-9h0m19 0h0m-44 2h0m44 7h0m-20 3h0m20-6h0m-13 0h0m-31-5h0m-1 5h0m41-7h0m-12 1h0m8 9h0m-34-4h0m25 9h0m-23-12h0m43 13h0m-45-16h0m1 12h0m-9 8h0m24-21h0m1 0h0m2 5h0m29-4h0m-45 2h0m0 10h0" stroke="#2990c4" stroke-width="2.4" stroke-linecap="square" stroke-opacity="0.5" fill="none"/>
<path d="M310 456h0m-17 2h0m13-8h0m-22 8h0m32-4h0m-47-7h0m37 12h0m-2-4h0m-24-2h0m6-4h0m10 9h0m9 0h0m-16 1h0m27-1h0m-1-2h0m-8 0h0m-21-1h0m-2-9h0m-4 12h0m34 0h0m-24-8h0m8 9h0m2-25h0m2 19h0m-21 4h0m10 1h0m-5-9h0m22 0h0m-15 2h0m22-1h0m2 5h0m-34 3h0m22-4h0m-3 2h0m9-6h0m-22 0h0m20 6h0m-23-10h0m22 9h0m14 4h0m-56-12h0m48 6h0m0 5h0m-45 0h0m38-5h0m4 3h0m-40 1h0m22-3h0m-2 3h0m15-25h0m-6 26h0m-7-3h0m17-10h0m-45 13h0m22-4h0m12 4h0m21-6h0m-34 4h0m10-14h0m-18 15h0" stroke="#2990c4" stroke-width="2.4" stroke-linecap="square" stroke-opacity="0.5" fill="none"/>
<path d="M304 485h0m10 16h0m-48-19h0m35 8h0m-1-14h0m7 14h0m-33 0h0m9-13h0m19 7h0m16-7h0m1 14h0m-48-12h0m43 7h0m-12 9h0m17-19h0m-13 28h0m-3-15h0m-23-12h0m16 17h0m-10 6h0m-7-14h0m5-7h0" stroke="#4aa8d4" stroke-width="2.4" stroke-linecap="square" stroke-opacity="0.5" fill="none"/>
<rect x="262" y="514.4" width="61.6" height="12.8" fill="#4e4e4e" fill-opacity="0.4"/>
<rect x="262" y="517.2" width="61.6" height="7.6" fill="#4e4e4e" fill-opacity="0.85"/>
<path d="M275 520h0m39-1h0m4 2h0m-6 6h0m-30-10h0m-10 3h0m0 2h0m-6 1h0m10 5h0m2 1h0m-5-10h0m14 5h0m-19 5h0m44-3h0m-1-8h0m6 1h0m-14 3h0m8 3h0m-12-8h0m-29 8h0m47-6h0m3 5h0m-22 0h0m22-1h0m-26 2h0m20-4h0m-11 1h0m15 4h0m-23-7h0m1 0h0m-14-3h0m1 12h0m-15-10h0m-3 7h0m12-3h0m-6 1h0m38-3h0m-9 1h0m7 4h0m-7-3h0m4-5h0m-14 3h0m-5-4h0m4 7h0m31 1h0m-1-2h0m-11 5h0m3 0h0m9-7h0m-41 5h0m20-5h0m-11 2h0m26-2h0m-7 1h0m12-5h0m-29 4h0m29-4h0m-43 11h0m41-8h0m-10 2h0m15-6h0m-55 3h0m0 5h0m2-10h0m36 9h0m2-3h0m-6 10h0m20-5h0m-8 1h0m-18-3h0m7 3h0m19-8h0m-11 11h0m7-4h0m-3-9h0m-36 8h0m38-2h0m-36 6h0m34-7h0m-6 2h0m-32 1h0m43-2h0m-44 7h0m6-5h0m12-4h0m-15 3h0m30-1h0m-7 7h0m7-11h0m-21-3h0m6 16h0m14-9h0m-14 5h0m-11-4h0m3-2h0m19 4h0m-34-2h0m52-3h0m-4-5h0m-4 9h0" stroke="#555" stroke-width="2.4" stroke-linecap="square" stroke-opacity="0.4" fill="none"/>
<path d="M300 532h0m-33 10h0m41-13h0" stroke="#999" stroke-width="2.4" stroke-linecap="square" stroke-opacity="0.4" fill="none"/>
<path d="M388 383h0m-7 58h0m-5-58h0m-21 0h0m-24 13h0m12 45h0m11-62h0m10-5h0m9 34h0m-1-21h0m14 48h0m-44-1h0m38 6h0m-53 0h0m60-36h0m-54 30h0m29-59h0m-24 38h0m10-25h0m23 33h0m-3-18h0m-18 27h0m11-53h0m-28 21h0m31 13h0m12 16h0m-22-11h0m14-34h0" stroke="#4aa8d4" stroke-width="2.4" stroke-linecap="square" stroke-opacity="0.5" fill="none"/>
<path d="M342 385h0m-13 22h0m45-27h0m-21 46h0m26 4h0m-45-39h0m50-15h0m-28 29h0m-25-11h0m43 5h0m-4-18h0m-23 2h0m-4 24h0m7-23h0m35-8h0" stroke="#4aa8d4" stroke-width="2.4" stroke-linecap="square" stroke-opacity="0.5" fill="none"/>
<rect x="323.6" y="461.2" width="65.4" height="11.6" fill="#0b68aa" fill-opacity="0.75"/>
<path d="M347 467h0m31 2h0m-14 3h0m6-1h0m-22 5h0m37-16h0m-19 9h0m16 0h0m-29-8h0m-19 7h0m5 0h0m11-3h0m-11-2h0m-5 11h0m3-5h0m-4-2h0m15 2h0m14-5h0m11 4h0m13 2h0m-17-7h0m-17 4h0m-24 0h0m47 1h0m10-3h0m-59 2h0m60-2h0m-46-3h0m14 2h0m-26-5h0m53 11h0m-50-1h0m50-7h0m-17 0h0m-27 0h0m36-1h0m-34 0h0m-11 9h0m1-5h0m40 7h0m-23-2h0m37-1h0m-48-9h0m23 16h0m3-10h0m-16-11h0m11 11h0m27-1h0m-17 5h0m-40-8h0m8 6h0m26-3h0m-20 8h0m12-8h0m9 5h0m-34 2h0m17-9h0m4 6h0m22-2h0m-22 9h0m-13-6h0m1-7h0m-1 14h0m21-13h0m6 3h0m16 1h0m-36 2h0m-1-6h0m7 2h0m32-1h0m-38 3h0m-8-5h0m36 2h0m10-5h0m-31 16h0m34-6h0m-23 4h0m10-11h0m18-5h0m-55 0h0m-5 2h0m35 10h0m-31-5h0m34-1h0m-41-4h0m26 16h0m-24-16h0m14 6h0m33 0h0m-33 0h0m1 0h0m15 3h0m-27 12h0m10-8h0m12-4h0m17-7h0m-5 13h0m-3 1h0m-18-12h0m1 6h0m39-15h0m-10 7h0m14 11h0m-34-15h0m-24 13h0m21 2h0m33-13h0m-55 7h0m10 8h0m36 5h0m-38-12h0m48 8h0m-42-13h0m41 1h0m-22 6h0m5 2h0m-17-3h0m13 5h0m-4-2h0m18 3h0m-42-3h0m54-4h0m-41 1h0m-2-1h0m21 1h0m6 5h0m0 0h0m10 2h0m-38-3h0m10 0h0m-22-9h0m13 2h0m4 0h0m27-2h0m-3-9h0m-4 17h0m-5-10h0m-3 2h0m4 0h0m-34 12h0m5-6h0m5 6h0m12-8h0m18 4h0m-22 0h0m-22-5h0m11 2h0m26-10h0m15 3h0m-13 6h0m-9-13h0m28 14h0m-6 0h0m1-5h0m-36 8h0m5-2h0m3 4h0m-1-5h0m19 2h0m6-2h0m-19-9h0m6 7h0m11 0h0m-39 1h0m52 0h0m-48 4h0m42-5h0m-11-3h0m12 6h0m-29-14h0m29 4h0m-45 14h0m21-15h0m-29 10h0m19-7h0m13 9h0m-3-2h0m24 4h0m-36-3h0m0 4h0m19-12h0m-17 13h0m24-10h0m-35 7h0m37-6h0m-1 7h0m-47-3h0m52-2h0m-12 3h0m6-4h0m-12 0h0m27 8h0m-58-5h0m57-2h0m-61-3h0m16 9h0m42-11h0m-45 4h0m12-6h0m20 3h0m-35 3h0m2 2h0m38-2h0m-14 5h0m9-14h0m12 20h0m0-7h0m-17-1h0m-36-7h0m18 10h0m21-9h0m8 3h0m-50 2h0m55 1h0m3 0h0m-25-7h0m16-2h0m-16 14h0m12-3h0m-25-1h0m26-1h0m-12 0h0m-19-12h0m20 10h0m11 5h0m8-5h0m-46 4h0m52-2h0m-39-4h0m11-2h0m2 3h0m26 6h0m-12-13h0m-33 13h0m-7-15h0m41 20h0m-6-11h0m-40 2h0m29-3h0m-33 7h0m62-9h0m-60 11h0m43 4h0m-42-11h0m9-4h0m19 8h0m-26-8h0m22 3h0m34 2h0m-53 5h0m38-12h0m-37 10h0m44-1h0m-10-3h0m-19 4h0m-21-3h0m35-3h0m-27-8h0m46-3h0m-24 13h0m5 4h0m9-9h0m-9 3h0m-12 10h0m37-4h0m-35-13h0m-27 12h0m41-5h0m-3 5h0m-12-3h0m7-5h0m-21 15h0m43-24h0m-51 8h0m34 12h0m7-7h0m-4 2h0m2-7h0m-15 9h0m29-8h0m-53-2h0m0 0h0m33 12h0m-35-7h0m43 5h0m-10-2h0m11-3h0m-32-5h0m32 7h0m-29 2h0m16-9h0m-7 3h0m4-2h0m10-6h0m5 12h0m-20 2h0m29-4h0m-43 2h0m-1 0h0m-1 5h0m34-2h0m-7 1h0m-13-9h0m27 6h0m7-2h0m-20-6h0m17 8h0m-42-11h0m19 3h0m29 11h0m-6-2h0m-11-13h0m11 12h0m-34-2h0m27-2h0m12-4h0m-51 4h0m-1 6h0m2 5h0m-6-5h0m-3-9h0m45 8h0m-33 8h0m45-12h0m-46-6h0m26 13h0m22-9h0m-47 3h0m31 2h0m-6-3h0m16 1h0m-19 3h0m-31 1h0m24-2h0m32 2h0m-58-2h0m59-5h0m-16 12h0m-14-7h0m11 1h0m-41 3h0m12-7h0m47-6h0m-9-2h0m-12 7h0m13 7h0m6-3h0m-2 1h0m-55-5h0m4-6h0m39 7h0m-26-9h0m35 5h0m-33 7h0m35-6h0m-13-4h0m-17 10h0m28 0h0m-28-2h0m10-10h0m22 13h0m-21-5h0m25 4h0m-2 3h0m-28-3h0m-25 4h0m23-3h0m10-6h0m-16-1h0m13 14h0m-27 1h0m3-13h0m47 3h0m-46 1h0m33 2h0m-32-12h0m-13 12h0m60-3h0m-57 0h0m53-3h0m-57 10h0m10-9h0m46 11h0m7-1h0m-26-11h0m-1 8h0m2 0h0m-35-7h0m3-10h0m26 10h0m-6 4h0m10 10h0m-32-5h0m2-2h0m5-3h0m33 3h0m9-9h0m1 0h0m-21-3h0m15 1h0m-4 5h0m-11 11h0m8-17h0m7 8h0m-24-1h0m-7-10h0m16 9h0m-23-10h0m31 17h0m16-2h0m-45-8h0m30 2h0m-29-1h0m28-1h0m2 7h0m20-9h0m-5 4h0m-51-5h0m1 12h0m51-5h0m-59 5h0m60-10h0m-27-9h0m-21 16h0m8-1h0m32 3h0m-8-5h0m18 4h0m-8 1h0m-54-8h0m35-8h0m-1 15h0m11-3h0m13-3h0m-15-4h0m4 15h0m8-8h0m-46 0h0m20-6h0m22 1h0m-2 5h0m-25-8h0m20 13h0m13-8h0m2 9h0m-58-6h0m1-5h0m25 14h0m27-10h0m-42-3h0" stroke="#1275b6" stroke-width="2.4" stroke-linecap="square" stroke-opacity="0.5" fill="none"/>
<path d="M352 481h0m-10-6h0m-3 2h0m35 3h0m-25 1h0m-15 5h0m10 3h0m23 22h0m-9-36h0m7 20h0m-38-18h0m20 8h0m39-9h0m-24-2h0m24 0h0m-12 32h0m-22-26h0m-23 0h0m29-4h0m9 3h0m-17-1h0m-2-2h0m-19 10h0m-3-5h0m10 5h0m39-9h0m-32 11h0m40-13h0m-38 3h0m24-3h0m9 17h0m-24-3h0m-19-9h0m47 11h0m-29 2h0m13-15h0m-11-4h0m-5 6h0m-20 0h0m4-2h0m9-1h0m13 3h0m-2-4h0m33 2h0m-34 6h0m18 5h0m4-13h0m-35 14h0m13-5h0m-26-10h0m21 21h0m-12-21h0m2 15h0m-1-13h0m39 0h0m-16-3h0m-27 36h0m11-35h0m-7 18h0m7-10h0m19-3h0m0 20h0m-30-7h0m45-10h0m-24-9h0m-6 11h0m-13-7h0m10 1h0m-20 3h0m3 33h0m55-35h0m-34-4h0m-22 3h0m55-4h0m3 2h0m-36 2h0m16-1h0m-18 5h0m36-8h0m-24 6h0m4-7h0m15 7h0m-48-1h0m43-6h0m-1 9h0m-16-2h0m-17 1h0m6 3h0m33-10h0m-15 18h0m-25-10h0m18 6h0m10-15h0m18 1h0m-23 0h0m23 26h0m-54-27h0m45 5h0m-47-2h0m3 5h0m1-7h0m2 12h0m38-10h0m-26-2h0m24 1h0m9 0h0m-29-1h0m-20-1h0m9 4h0m34 3h0" stroke="#2990c4" stroke-width="2.4" stroke-linecap="square" stroke-opacity="0.5" fill="none"/>
<path d="M341 458h0m6-3h0m9 3h0m-22-9h0m35 6h0m-8-3h0m-23 2h0m38 1h0m1-7h0m-44 12h0m9-12h0m29 1h0m7 4h0m-2-7h0m-36 0h0m-11-3h0m16 11h0m-11 4h0m31-9h0m-37 10h0m28-4h0m-8-2h0m27 5h0m-7-24h0m-37 23h0m5-35h0m-4 28h0m23 9h0m22 0h0m-18 0h0m-5-24h0m9 14h0m-10 6h0m-12-1h0m45 5h0m-36-1h0m-14-11h0m17 11h0m-21-4h0m14-9h0m19 14h0m-31-8h0m43 0h0m-43-12h0m3 17h0m46-4h0m-19-4h0m-17 8h0m40-22h0m-10 24h0m-34-13h0m13 15h0m-24-4h0m47-3h0m-11 6h0m-43-1h0m54 0h0m-43 1h0m30 0h0m-41 0h0" stroke="#2990c4" stroke-width="2.4" stroke-linecap="square" stroke-opacity="0.5" fill="none"/>
<path d="M340 497h0m24-8h0m-32 7h0m23-17h0m19-1h0m-31 24h0m12-12h0m7-11h0m6 8h0m9-10h0m-52 2h0m14 2h0m39-5h0m3 4h0m-33 9h0m-20-7h0m28-5h0m18 5h0m-7 7h0m0-1h0m-40 0h0m-1-11h0" stroke="#4aa8d4" stroke-width="2.4" stroke-linecap="square" stroke-opacity="0.5" fill="none"/>
<rect x="323.6" y="514.4" width="65.4" height="12.8" fill="#4e4e4e" fill-opacity="0.4"/>
<rect x="323.6" y="517.2" width="65.4" height="7.6" fill="#4e4e4e" fill-opacity="0.85"/>
<path d="M345 521h0m19-4h0m-35 5h0m32 1h0m-30-2h0m29 1h0m2 0h0m-22-3h0m1-1h0m28 3h0m0 0h0m-11 2h0m11 2h0m-29-6h0m6 0h0m11 9h0m-25-8h0m13 0h0m-17-3h0m24 5h0m-26-10h0m53 5h0m5 2h0m-29-1h0m10 3h0m1 4h0m-26-3h0m-3-3h0m45-8h0m-30 6h0m-27 8h0m45 1h0m-30-3h0m34 1h0m-40-1h0m32-9h0m8 5h0m0-1h0m-19 5h0m-12 2h0m36-5h0m-25 8h0m28-8h0m-1-2h0m-14 0h0m-7-6h0m19 11h0m-41-5h0m43 5h0m-48-1h0m1 0h0m-5-8h0m8 5h0m44 0h0m-12 2h0m-41-5h0m37 0h0m21 9h0m-46-11h0m5 7h0m24-5h0m-33 7h0m-8-5h0m27 1h0m3-3h0m-16-4h0m26 15h0m17-7h0m-43 6h0m38-3h0m-18-7h0m-5 2h0m-15 4h0m42-2h0m-3-3h0m-46 5h0m39 2h0m-30 1h0m-15 2h0m26-6h0m-17-2h0m12 0h0m37-9h0m-22 16h0m23 1h0m-54-22h0m9 16h0m23-3h0m-36 1h0m9-6h0m14 7h0m33-8h0m-59 11h0m45 1h0m-45 1h0m20-12h0m-3 2h0m35 2h0m-21 8h0m-7-6h0" stroke="#555" stroke-width="2.4" stroke-linecap="square" stroke-opacity="0.4" fill="none"/>
<path d="M349 530h0m-10-1h0m1 9h0" stroke="#999" stroke-width="2.4" stroke-linecap="square" stroke-opacity="0.4" fill="none"/>
<path d="M417 404h0m28 0h0m-47 34h0m15-51h0m-18 31h0m37 15h0m4-11h0m-29 10h0m26-12h0m-5 21h0m-15-25h0m32-9h0m6-26h0m-30 48h0m3-9h0m20-27h0m-39 14h0m-9-2h0m16 11h0m31 16h0m-22-43h0m-18-13h0m6 5h0m16 57h0m-12-59h0m6 42h0m-28-36h0m48-7h0" stroke="#4aa8d4" stroke-width="2.4" stroke-linecap="square" stroke-opacity="0.5" fill="none"/>
<path d="M395 407h0m-4 29h0m3-27h0m19 11h0m7-12h0m22-12h0m-20 8h0m-1-3h0m26-2h0m-27 12h0m-13-3h0m23-18h0m21-15h0m-9 19h0m-33 12h0" stroke="#4aa8d4" stroke-width="2.4" stroke-linecap="square" stroke-opacity="0.5" fill="none"/>
<rect x="389" y="461.2" width="65" height="11.6" fill="#0b68aa" fill-opacity="0.75"/>
<path d="M444 465h0m9 7h0m-34-14h0m14 11h0m-22 4h0m33-8h0m-42-1h0m36-3h0m-12 2h0m7 4h0m-24 7h0m40-4h0m-33-5h0m28-5h0m-40 1h0m15 12h0m-20-13h0m34 13h0m-41-5h0m46 5h0m8-4h0m-46-5h0m-4 3h0m27-2h0m0-4h0m8 5h0m-31 1h0m19-6h0m-18 5h0m44 5h0m-11-4h0m-15-6h0m-16 14h0m0-12h0m28 10h0m9-4h0m-32 4h0m-17-4h0m62-8h0m-59 13h0m9-10h0m30-4h0m-22-1h0m26 10h0m-33-4h0m4 0h0m17-6h0m-19 18h0m40-6h0m-46 2h0m22-5h0m-29 6h0m47-9h0m-19 10h0m-31-8h0m38-2h0m16 7h0m-11-2h0m-32 0h0m21-11h0m-25 4h0m20-2h0m18 2h0m-39 5h0m4-6h0m51 6h0m-2-6h0m-9 4h0m-37 4h0m20 4h0m8 3h0m-41-8h0m57 0h0m-56 7h0m40-17h0m-4 3h0m24 11h0m-49 0h0m33 5h0m-5-1h0m22-1h0m-28-4h0m-4-4h0m32 6h0m-25-16h0m-3 9h0m-29-7h0m13 7h0m31-14h0m-32 17h0m40-3h0m-26 6h0m16-14h0m2 7h0m4 6h0m-8-14h0m11 8h0m-20-10h0m20 21h0m-44-15h0m42 5h0m-49 2h0m34-11h0m-3 6h0m-13-6h0m-16 12h0m34 5h0m8-20h0m10 12h0m-2-8h0m-23 10h0m-29 1h0m10 2h0m-11-2h0m34-12h0m-22 2h0m23 6h0m2 4h0m9-7h0m-19 2h0m15 4h0m-14-1h0m-20 5h0m19-12h0m12 9h0m-43-2h0m40 0h0m21-2h0m-56-2h0m2 10h0m35-10h0m-18 5h0m27-1h0m6-4h0m-5 5h0m-8 0h0m6 6h0m-4-12h0m-28 7h0m40 0h0m-39 2h0m2-8h0m8 5h0m-22-8h0m47 8h0m-33 4h0m-11 2h0m26-19h0m5 9h0m-7 4h0m24-11h0m-37 22h0m32-11h0m-41-11h0m45 26h0m3-14h0m-17-13h0m-15 6h0m-16 0h0m-11 4h0m37 9h0m-38-12h0m48 1h0m11 2h0m-50 3h0m47-1h0m-19-9h0m-35 12h0m50-9h0m-27 0h0m-24 17h0m62-22h0m-19 9h0m11-5h0m-18 9h0m22-2h0m-20-7h0m-18 3h0m-3 0h0m41 5h0m-56-12h0m16 11h0m16 0h0m-2-2h0m27-2h0m-15 6h0m-21-1h0m21-1h0m1-1h0m-34 3h0m49 0h0m-47-9h0m-8-1h0m35 4h0m11-1h0m8 0h0m1 2h0m-5 9h0m-23-7h0m29 0h0m-31 4h0m24-8h0m-19 2h0m-28-8h0m12 5h0m12 8h0m14-6h0m-40 0h0m52 10h0m-41 1h0m-5-8h0m9-5h0m-11-2h0m-5 6h0m-4-6h0m42 6h0m18-3h0m-50 2h0m-10-1h0m45 8h0m9-7h0m-20 10h0m23-11h0m-7 11h0m-42-14h0m38 7h0m-35-4h0m-1-3h0m34 16h0m8-10h0m-13-6h0m-30-3h0m-4 11h0m16 1h0m17-3h0m18-4h0m0 0h0m-43-4h0m18 4h0m-3 1h0m0 5h0m25 1h0m-10-10h0m-3-5h0m-19 20h0m33-9h0m5-4h0m-34 5h0m2-6h0m32 2h0m-24-11h0m7 11h0m1 11h0m-30-5h0m-4-5h0m50 2h0m-35 3h0m-22 2h0m25-10h0m-2 3h0m-10 2h0m39 4h0m-42-7h0m4 5h0m-2 1h0m-8-4h0m48 3h0m-37 4h0m0-13h0m-12 7h0m36 1h0m-19 10h0m27-22h0m-2 6h0m-32-3h0m0 2h0m14 7h0m-5-7h0m1 5h0m6 0h0m-26-1h0m16 6h0m32-3h0m-22-6h0m19 2h0m-32 4h0m22-5h0m-38 6h0m29-3h0m-25-2h0m43 1h0m4-4h0m-34 7h0m4-4h0m-14-1h0m30 2h0m-2 13h0m-20-5h0m0-10h0m37-2h0m-24 9h0m22-9h0m-11 12h0m-7-10h0m-20 9h0m41 5h0m-2-12h0m7 5h0m-41 1h0m-20 8h0m47 1h0m-45-17h0m11 11h0m-7-1h0m25-4h0m-18 1h0m3-8h0m47 1h0m-28 4h0m21-7h0m-7 9h0m-11-1h0m23 7h0m-12-13h0m-47 12h0m23-5h0m-4 0h0m14-1h0m-4 0h0m11-4h0m9-1h0m-33 11h0m27-18h0m-16 17h0m-9-3h0m-7-1h0m35 4h0m-28-5h0m5 1h0m5 2h0m-26-4h0m0 6h0m-2 0h0m29-6h0m-4 3h0m19-7h0m1 6h0m-14 0h0m27-9h0m3 8h0m-51 3h0m-5-8h0m30-2h0m-34 7h0m-2-3h0m11-2h0m-10 5h0m55-5h0m-14 5h0m-18 5h0m11-4h0m-25 0h0m24-7h0m-2 12h0m20-8h0m-17 11h0m6-12h0m-10 3h0m-4-7h0m-21 8h0m10-9h0m37 8h0m3 8h0m5-5h0m-25-10h0m7 11h0m15-11h0m-29 5h0m-13-1h0m-1 0h0m17 2h0m-15-12h0m-17 18h0m33-6h0m4-5h0m19 7h0m-50 6h0m-3-13h0m53 9h0m-5-4h0m2 1h0m-36-4h0m33 3h0m-42 3h0m21-11h0m11 4h0m-9 1h0m21 0h0m-29-6h0m-10 6h0m-10-3h0m47 8h0m9-2h0m-12 1h0m-34 1h0m18-5h0m-15-2h0m-10 8h0m9-5h0m28-1h0m18 11h0m-45-16h0m4 12h0m8 3h0m-28-9h0m-1-1h0m6 5h0m50-6h0m-12-6h0m-2 16h0m-15 2h0m29-15h0m-25 11h0m30-3h0m-42-1h0m21 4h0m-39-6h0m0 0h0m52 3h0m-45 1h0m2-15h0m43 19h0m-36-3h0m42 3h0m-2-7h0m-34-4h0m14 8h0m-24 0h0m41 2h0m-27-1h0m-18-8h0m43-2h0m-6 5h0m-20 3h0m18-2h0m-20-3h0m30 4h0m-24-11h0m-2 9h0m27-10h0" stroke="#1275b6" stroke-width="2.4" stroke-linecap="square" stroke-opacity="0.5" fill="none"/>
<path d="M415 480h0m-4-6h0m22 8h0m-28-7h0m38 0h0m-11 17h0m-29-11h0m-2-6h0m38 8h0m10-8h0m-33 15h0m-4-14h0m12 20h0m-4-20h0m15 1h0m0 7h0m-17-8h0m9 30h0m15-17h0m1-9h0m3 17h0m-13-16h0m15 0h0m-42 18h0m47-7h0m-10-18h0m6 1h0m-35 11h0m27-8h0m-27 7h0m-22-9h0m11 3h0m43 16h0m-51-18h0m2-3h0m48 2h0m-5 15h0m9-14h0m-56-1h0m-1 9h0m15-6h0m2 16h0m12-16h0m-11 11h0m-14 5h0m43-20h0m8 3h0m-38 8h0m15-10h0m27 27h0m-21-26h0m-29 12h0m51-12h0m-21 13h0m4-11h0m-6 9h0m23-10h0m-18 47h0m-42-50h0m11 0h0m6 9h0m-16-10h0m11 8h0m45-5h0m-14-1h0m-41-2h0m50 6h0m-51 1h0m22-2h0m27 7h0m-14-9h0m-21 5h0m39-1h0m-41-6h0m22 3h0m15-1h0m-23-1h0m18-1h0m6 1h0m-1 5h0m-32 1h0m-2 16h0m45-16h0m-51-1h0m50-2h0m-10 17h0m-12 0h0m-5-18h0m-29 11h0m9-10h0m-1 5h0m-9-10h0m24 17h0m-16-16h0m2 5h0m6 10h0m29-12h0m-38 0h0m-10-3h0m56 31h0m-3-31h0m-23 11h0m-13-8h0m-4-3h0m15 1h0m-11 1h0m26-2h0m-2 13h0m-3-13h0m-20-1h0" stroke="#2990c4" stroke-width="2.4" stroke-linecap="square" stroke-opacity="0.5" fill="none"/>
<path d="M451 455h0m-5-10h0m-32 9h0m18-25h0m-30 22h0m-9-4h0m50 2h0m-19 11h0m16-3h0m0 1h0m0-9h0m-47 9h0m16-11h0m-1 11h0m16 0h0m9-4h0m-5 4h0m10-2h0m8-1h0m-15 3h0m-22 1h0m1 0h0m36-18h0m-31 16h0m-19-8h0m21 1h0m30-11h0m-12 20h0m-33-13h0m28-1h0m-1 8h0m-6 3h0m16 0h0m-21 0h0m-19-3h0m50-15h0m-35 16h0m-7 6h0m-2-1h0m35-6h0m-15 6h0m-13-9h0m-13-17h0m50 20h0m-21-1h0m5-9h0m-38 15h0m33-17h0m11 7h0m-27 10h0m-20 1h0m7-4h0m3 2h0m35-3h0m-43-1h0m36-1h0m20 5h0m-3-12h0m-1 2h0m-28 12h0" stroke="#2990c4" stroke-width="2.4" stroke-linecap="square" stroke-opacity="0.5" fill="none"/>
<path d="M434 495h0m3-13h0m-9 6h0m-5-11h0m3 24h0m-32-7h0m28-1h0m-11-13h0m31 10h0m-2-12h0m-7 17h0m-6-12h0m-33 0h0m52 4h0m-5-5h0m-19 6h0m-5-11h0m34 5h0m-50-5h0m35 14h0m9-14h0m3 11h0" stroke="#4aa8d4" stroke-width="2.4" stroke-linecap="square" stroke-opacity="0.5" fill="none"/>
<rect x="389" y="514.4" width="65" height="12.8" fill="#4e4e4e" fill-opacity="0.4"/>
<rect x="389" y="517.2" width="65" height="7.6" fill="#4e4e4e" fill-opacity="0.85"/>
<path d="M414 523h0m16-6h0m-39 2h0m-1-2h0m39 9h0m16-6h0m-26 7h0m6-5h0m19-8h0m5 7h0m-26-8h0m22 11h0m-1-12h0m-15 13h0m-13-2h0m37 3h0m-45-4h0m33 0h0m-27-3h0m28-1h0m-7 0h0m-42 1h0m52 1h0m-52 10h0m1-8h0m22-5h0m-17 9h0m48-5h0m-32-3h0m5 3h0m-27-3h0m49 5h0m-11-4h0m-15 6h0m0-9h0m-11 5h0m13-6h0m-25 13h0m40-12h0m-35 12h0m1-8h0m26 5h0m-23-8h0m41 2h0m-42 7h0m26-11h0m-26 8h0m0-9h0m24 15h0m18-4h0m-7-12h0m-21 6h0m-10 6h0m27 5h0m15-10h0m-50-7h0m50 13h0m-32-9h0m29 3h0m-22-1h0m31-4h0m-22-4h0m-1 16h0m-35-6h0m23-1h0m4-2h0m8 4h0m-16-6h0m-9 0h0m21-1h0m-1-1h0m5 7h0m6-7h0m-3 14h0m-5-8h0m22-2h0m-39 1h0m-10 7h0m23-15h0m-9 9h0m34 7h0m-20-3h0m12-3h0m-34-2h0m39 10h0m-3-11h0m7 10h0m-56-12h0m7-2h0m17 6h0m2-2h0m-22-8h0m24 10h0m3 10h0m2-10h0m-2 2h0m-29-2h0m36 0h0m-8 1h0m7 0h0" stroke="#555" stroke-width="2.4" stroke-linecap="square" stroke-opacity="0.4" fill="none"/>
<path d="M393 539h0m58-10h0m-39 8h0" stroke="#999" stroke-width="2.4" stroke-linecap="square" stroke-opacity="0.4" fill="none"/>
</g>
<line x1="69.5" y1="183" x2="69.5" y2="297" stroke="#9c9c9c" stroke-width="1"/>
<line x1="101.5" y1="183" x2="101.5" y2="297" stroke="#9c9c9c" stroke-width="1"/>
<line x1="131.5" y1="183" x2="131.5" y2="297" stroke="#9c9c9c" stroke-width="1"/>
<line x1="161.5" y1="183" x2="161.5" y2="297" stroke="#9c9c9c" stroke-width="1"/>
<line x1="194.5" y1="183" x2="194.5" y2="297" stroke="#9c9c9c" stroke-width="1"/>
<line x1="39.5" y1="223.1" x2="227" y2="223.1" stroke="#f28ef2" stroke-width="1.2"/>
<line x1="39.5" y1="252.3" x2="227" y2="252.3" stroke="#f28ef2" stroke-width="1.2"/>
<rect x="39.5" y="183" width="187.5" height="114" fill="none" stroke="#111" stroke-width="1.4"/>
<text x="37.5" y="186.1" font-size="6" fill="#222" text-anchor="end" textLength="16.25" lengthAdjust="spacingAndGlyphs" stroke="#222" stroke-width="0.18">20000</text>
<text x="37.5" y="214.6" font-size="6" fill="#222" text-anchor="end" textLength="16.25" lengthAdjust="spacingAndGlyphs" stroke="#222" stroke-width="0.18">15000</text>
<text x="37.5" y="242.8" font-size="6" fill="#222" text-anchor="end" textLength="16.25" lengthAdjust="spacingAndGlyphs" stroke="#222" stroke-width="0.18">10000</text>
<text x="37.5" y="270.8" font-size="6" fill="#222" text-anchor="end" textLength="13.0" lengthAdjust="spacingAndGlyphs" stroke="#222" stroke-width="0.18">5000</text>
<text x="37.5" y="299.1" font-size="6" fill="#222" text-anchor="end" textLength="3.25" lengthAdjust="spacingAndGlyphs" stroke="#222" stroke-width="0.18">0</text>
<text x="231" y="213.3" font-size="6.5" fill="#3579c0" font-weight="bold" textLength="31" lengthAdjust="spacingAndGlyphs">AT5G13180</text>
<text x="231" y="239.8" font-size="6.5" fill="#f0843a" font-weight="bold" textLength="31" lengthAdjust="spacingAndGlyphs">AT5G15090</text>
<text transform="translate(12.3,239) rotate(-90)" font-size="6.5" text-anchor="middle" fill="#111" stroke="#111" stroke-width="0.15" textLength="28.6" lengthAdjust="spacingAndGlyphs">Amplitude</text>
<text x="5.8" y="180.1" font-size="7.2" fill="#000" font-weight="bold">C</text>
<text x="51" y="303.8" font-size="8.5" fill="#111" font-weight="bold">T</text>
<text x="55.3" y="305.40000000000003" font-size="5.5" fill="#111" font-weight="bold" textLength="3.2" lengthAdjust="spacingAndGlyphs" stroke="#111" stroke-width="0.2">0</text>
<text x="74.6" y="303.8" font-size="8.5" fill="#111" font-weight="bold">T</text>
<text x="78.89999999999999" y="305.40000000000003" font-size="5.5" fill="#111" font-weight="bold" textLength="16" lengthAdjust="spacingAndGlyphs" stroke="#111" stroke-width="0.2">7.5min</text>
<text x="108.6" y="303.8" font-size="8.5" fill="#111" font-weight="bold">T</text>
<text x="112.89999999999999" y="305.40000000000003" font-size="5.5" fill="#111" font-weight="bold" textLength="15.5" lengthAdjust="spacingAndGlyphs" stroke="#111" stroke-width="0.2">15min</text>
<text x="142.7" y="303.8" font-size="8.5" fill="#111" font-weight="bold">T</text>
<text x="147.0" y="305.40000000000003" font-size="5.5" fill="#111" font-weight="bold" textLength="15.5" lengthAdjust="spacingAndGlyphs" stroke="#111" stroke-width="0.2">30min</text>
<text x="175.5" y="303.8" font-size="8.5" fill="#111" font-weight="bold">T</text>
<text x="179.8" y="305.40000000000003" font-size="5.5" fill="#111" font-weight="bold" textLength="15" lengthAdjust="spacingAndGlyphs" stroke="#111" stroke-width="0.2">60min</text>
<text x="203.6" y="303.8" font-size="8.5" fill="#111" font-weight="bold">T</text>
<text x="207.9" y="305.40000000000003" font-size="5.5" fill="#111" font-weight="bold" textLength="18" lengthAdjust="spacingAndGlyphs" stroke="#111" stroke-width="0.2">120min</text>
<text x="62.3" y="320.31" font-size="9.2" fill="#222" textLength="140.4" lengthAdjust="spacingAndGlyphs" stroke="#222" stroke-width="0.25">Time after transcription inhibition (min)</text>
<rect x="315.5" y="12.5" width="201.79999999999995" height="113.6" fill="none" stroke="#d9d9d9" stroke-width="1"/>
<line x1="315.5" y1="126.1" x2="317.5" y2="126.1" stroke="#d9d9d9" stroke-width="1"/>
<text x="310.0" y="128.2" font-size="6" fill="#808080" text-anchor="end">0</text>
<line x1="315.5" y1="69.3" x2="317.5" y2="69.3" stroke="#d9d9d9" stroke-width="1"/>
<text x="310.0" y="71.4" font-size="6" fill="#808080" text-anchor="end">20</text>
<line x1="315.5" y1="12.5" x2="317.5" y2="12.5" stroke="#d9d9d9" stroke-width="1"/>
<text x="310.0" y="14.6" font-size="6" fill="#808080" text-anchor="end">40</text>
<line x1="515.3" y1="126.1" x2="517.3" y2="126.1" stroke="#d9d9d9" stroke-width="1"/>
<text x="523.8" y="128.2" font-size="6" fill="#808080">0</text>
<line x1="515.3" y1="88.23333333333332" x2="517.3" y2="88.23333333333332" stroke="#d9d9d9" stroke-width="1"/>
<text x="523.8" y="90.33" font-size="6" fill="#808080">50</text>
<line x1="515.3" y1="50.36666666666666" x2="517.3" y2="50.36666666666666" stroke="#d9d9d9" stroke-width="1"/>
<text x="523.8" y="52.47" font-size="6" fill="#808080">100</text>
<line x1="515.3" y1="12.5" x2="517.3" y2="12.5" stroke="#d9d9d9" stroke-width="1"/>
<text x="523.8" y="14.6" font-size="6" fill="#808080">150</text>
<text x="315.5" y="137.1" font-size="6" fill="#808080" text-anchor="middle">0</text>
<line x1="408.50" y1="124.1" x2="408.50" y2="126.1" stroke="#d9d9d9" stroke-width="1"/>
<text x="408.5" y="137.1" font-size="6" fill="#808080" text-anchor="middle">60</text>
<line x1="501.50" y1="124.1" x2="501.50" y2="126.1" stroke="#d9d9d9" stroke-width="1"/>
<text x="501.5" y="137.1" font-size="6" fill="#808080" text-anchor="middle">120</text>
<path d="M315.5 17.5H318.3M315.5 17.5V50" stroke="#858585" stroke-width="0.9" fill="none"/>
<path d="M324.3 89.3H329.9M327.1 89.3V98.5M324.3 98.5H329.9" stroke="#858585" stroke-width="0.9" fill="none"/>
<path d="M335.9 69.3H341.6M338.8 69.3V81.6M335.9 81.6H341.6" stroke="#858585" stroke-width="0.9" fill="none"/>
<path d="M359.2 77.4H364.8M362.0 77.4V89M359.2 89H364.8" stroke="#858585" stroke-width="0.9" fill="none"/>
<path d="M405.7 95.3H411.3M408.5 95.3V103.7M405.7 103.7H411.3" stroke="#858585" stroke-width="0.9" fill="none"/>
<path d="M498.7 94.5H504.3M501.5 94.5V104.7M498.7 104.7H504.3" stroke="#858585" stroke-width="0.9" fill="none"/>
<polyline points="315.5,43.4 327.1,93.4 338.8,75.9 362.0,83.3 408.5,99.1 501.5,99.6" fill="none" stroke="#1a66c4" stroke-width="2.1"/>
<circle cx="315.5" cy="43.4" r="3.15" fill="#1a66c4"/>
<circle cx="327.1" cy="93.4" r="3.15" fill="#1a66c4"/>
<circle cx="338.8" cy="75.9" r="3.15" fill="#1a66c4"/>
<circle cx="362.0" cy="83.3" r="3.15" fill="#1a66c4"/>
<circle cx="408.5" cy="99.1" r="3.15" fill="#1a66c4"/>
<circle cx="501.5" cy="99.6" r="3.15" fill="#1a66c4"/>
<path d="M324.3 113H329.9M327.1 113V122M324.3 122H329.9" stroke="#858585" stroke-width="0.9" fill="none"/>
<path d="M335.9 113H341.6M338.8 113V118.5M335.9 118.5H341.6" stroke="#858585" stroke-width="0.9" fill="none"/>
<path d="M359.2 116.5H364.8M362.0 116.5V121.5M359.2 121.5H364.8" stroke="#858585" stroke-width="0.9" fill="none"/>
<polyline points="315.5,27.4 327.1,118.0 338.8,115.5 362.0,119.0 408.5,121.8 501.5,121.8" fill="none" stroke="#f97c26" stroke-width="2.1"/>
<circle cx="315.5" cy="27.4" r="3.15" fill="#f97c26"/>
<circle cx="327.1" cy="118.0" r="3.15" fill="#f97c26"/>
<circle cx="338.8" cy="115.5" r="3.15" fill="#f97c26"/>
<circle cx="362.0" cy="119.0" r="3.15" fill="#f97c26"/>
<circle cx="408.5" cy="121.8" r="3.15" fill="#f97c26"/>
<circle cx="501.5" cy="121.8" r="3.15" fill="#f97c26"/>
<text x="440.5" y="24.400000000000002" font-size="7.5" fill="#2e75b6" stroke="#2e75b6" stroke-width="0.1" textLength="67.2" lengthAdjust="spacingAndGlyphs">T<tspan font-size="5" dy="1.2">1/2</tspan><tspan dy="-1.2">= 31.7 ± 1.7 min</tspan></text>
<text x="440.5" y="48.5" font-size="7.5" fill="#ed7d31" stroke="#ed7d31" stroke-width="0.1" textLength="67.2" lengthAdjust="spacingAndGlyphs">T<tspan font-size="5" dy="1.2">1/2</tspan><tspan dy="-1.2">= 7.85 ± 0.8 min</tspan></text>
<text transform="translate(296.59999999999997,70.6) rotate(-90)" font-size="6.8" font-weight="bold" text-anchor="middle" fill="#000" textLength="67.5" lengthAdjust="spacingAndGlyphs">AT2G01100 copies per µL</text>
<text transform="translate(540.6,67) rotate(90)" font-size="6.8" font-weight="bold" text-anchor="middle" fill="#000" textLength="66.5" lengthAdjust="spacingAndGlyphs">AT1G13245 copies per µL</text>
<text x="290.5" y="9.8" font-size="7" fill="#000" font-weight="bold">B</text>
<text x="363.3" y="148.4" font-size="6.3" fill="#111" textLength="104.8" lengthAdjust="spacingAndGlyphs">Time after transcription inhibition (min)</text>
<rect x="315.5" y="183.2" width="201.79999999999995" height="112.80000000000001" fill="none" stroke="#d9d9d9" stroke-width="1"/>
<line x1="315.5" y1="296.0" x2="317.5" y2="296.0" stroke="#d9d9d9" stroke-width="1"/>
<text x="310.0" y="298.1" font-size="6" fill="#808080" text-anchor="end">0</text>
<line x1="315.5" y1="239.6" x2="317.5" y2="239.6" stroke="#d9d9d9" stroke-width="1"/>
<text x="310.0" y="241.7" font-size="6" fill="#808080" text-anchor="end">15</text>
<line x1="315.5" y1="183.2" x2="317.5" y2="183.2" stroke="#d9d9d9" stroke-width="1"/>
<text x="310.0" y="185.3" font-size="6" fill="#808080" text-anchor="end">30</text>
<line x1="515.3" y1="296.0" x2="517.3" y2="296.0" stroke="#d9d9d9" stroke-width="1"/>
<text x="523.8" y="298.1" font-size="6" fill="#808080">0</text>
<line x1="515.3" y1="239.6" x2="517.3" y2="239.6" stroke="#d9d9d9" stroke-width="1"/>
<text x="523.8" y="241.7" font-size="6" fill="#808080">150</text>
<line x1="515.3" y1="183.2" x2="517.3" y2="183.2" stroke="#d9d9d9" stroke-width="1"/>
<text x="523.8" y="185.3" font-size="6" fill="#808080">300</text>
<text x="315.5" y="307" font-size="6" fill="#808080" text-anchor="middle">0</text>
<line x1="346.50" y1="294" x2="346.50" y2="296" stroke="#d9d9d9" stroke-width="1"/>
<text x="346.5" y="307" font-size="6" fill="#808080" text-anchor="middle">20</text>
<line x1="377.50" y1="294" x2="377.50" y2="296" stroke="#d9d9d9" stroke-width="1"/>
<text x="377.5" y="307" font-size="6" fill="#808080" text-anchor="middle">40</text>
<line x1="408.50" y1="294" x2="408.50" y2="296" stroke="#d9d9d9" stroke-width="1"/>
<text x="408.5" y="307" font-size="6" fill="#808080" text-anchor="middle">60</text>
<line x1="439.50" y1="294" x2="439.50" y2="296" stroke="#d9d9d9" stroke-width="1"/>
<text x="439.5" y="307" font-size="6" fill="#808080" text-anchor="middle">80</text>
<line x1="470.50" y1="294" x2="470.50" y2="296" stroke="#d9d9d9" stroke-width="1"/>
<text x="470.5" y="307" font-size="6" fill="#808080" text-anchor="middle">100</text>
<line x1="501.50" y1="294" x2="501.50" y2="296" stroke="#d9d9d9" stroke-width="1"/>
<text x="501.5" y="307" font-size="6" fill="#808080" text-anchor="middle">120</text>
<path d="M335.9 218.7H341.6M338.8 218.7V252.2M335.9 252.2H341.6" stroke="#858585" stroke-width="0.9" fill="none"/>
<path d="M359.2 254.9H364.8M362.0 254.9V270.4M359.2 270.4H364.8" stroke="#858585" stroke-width="0.9" fill="none"/>
<path d="M498.7 268.8H504.3M501.5 268.8V282.6M498.7 282.6H504.3" stroke="#858585" stroke-width="0.9" fill="none"/>
<polyline points="315.5,194.0 327.1,212.0 338.8,235.4 362.0,262.7 408.5,265.2 501.5,276.0" fill="none" stroke="#1a66c4" stroke-width="2.1"/>
<circle cx="315.5" cy="194.0" r="3.15" fill="#1a66c4"/>
<circle cx="327.1" cy="212.0" r="3.15" fill="#1a66c4"/>
<circle cx="338.8" cy="235.4" r="3.15" fill="#1a66c4"/>
<circle cx="362.0" cy="262.7" r="3.15" fill="#1a66c4"/>
<circle cx="408.5" cy="265.2" r="3.15" fill="#1a66c4"/>
<circle cx="501.5" cy="276.0" r="3.15" fill="#1a66c4"/>
<path d="M315.5 203.9H318.3M315.5 203.9V251.3M315.5 251.3H318.3" stroke="#858585" stroke-width="0.9" fill="none"/>
<path d="M324.3 188.6H329.9M327.1 188.6V235.4M324.3 235.4H329.9" stroke="#858585" stroke-width="0.9" fill="none"/>
<path d="M335.9 194.3H341.6M338.8 194.3V252.2M335.9 252.2H341.6" stroke="#858585" stroke-width="0.9" fill="none"/>
<path d="M359.2 198.5H364.8M362.0 198.5V246M359.2 246H364.8" stroke="#858585" stroke-width="0.9" fill="none"/>
<path d="M405.7 210H411.3M408.5 210V222.8M405.7 222.8H411.3" stroke="#858585" stroke-width="0.9" fill="none"/>
<path d="M498.7 197.7H504.3M501.5 197.7V223M498.7 223H504.3" stroke="#858585" stroke-width="0.9" fill="none"/>
<polyline points="315.5,221.4 327.1,223.3 338.8,223.3 362.0,222.6 408.5,216.0 501.5,210.0" fill="none" stroke="#f97c26" stroke-width="2.1"/>
<circle cx="315.5" cy="221.4" r="3.15" fill="#f97c26"/>
<circle cx="327.1" cy="223.3" r="3.15" fill="#f97c26"/>
<circle cx="338.8" cy="223.3" r="3.15" fill="#f97c26"/>
<circle cx="362.0" cy="222.6" r="3.15" fill="#f97c26"/>
<circle cx="408.5" cy="216.0" r="3.15" fill="#f97c26"/>
<circle cx="501.5" cy="210.0" r="3.15" fill="#f97c26"/>
<text x="466" y="195.4" font-size="7.5" fill="#ed7d31" stroke="#ed7d31" stroke-width="0.1" textLength="46" lengthAdjust="spacingAndGlyphs">T<tspan font-size="5" dy="1.2">1/2</tspan><tspan dy="-1.2">&gt;120 min</tspan></text>
<text x="439.2" y="255.79999999999998" font-size="7.5" fill="#2e75b6" stroke="#2e75b6" stroke-width="0.1" textLength="72.8" lengthAdjust="spacingAndGlyphs">T<tspan font-size="5" dy="1.2">1/2</tspan><tspan dy="-1.2">= 18.46 min ± 2.5</tspan></text>
<text transform="translate(296.59999999999997,240.7) rotate(-90)" font-size="6.8" font-weight="bold" text-anchor="middle" fill="#000" textLength="67" lengthAdjust="spacingAndGlyphs">AT5G13180 copies per µL</text>
<text transform="translate(540.6,236.9) rotate(90)" font-size="6.8" font-weight="bold" text-anchor="middle" fill="#000" textLength="66" lengthAdjust="spacingAndGlyphs">AT5G15090 copies per µL</text>
<text x="290.5" y="179.8" font-size="7" fill="#000" font-weight="bold">D</text>
<text x="363.3" y="318.7" font-size="6.3" fill="#111" textLength="104.8" lengthAdjust="spacingAndGlyphs">Time after transcription inhibition (min)</text>
</svg>
</body></html>
